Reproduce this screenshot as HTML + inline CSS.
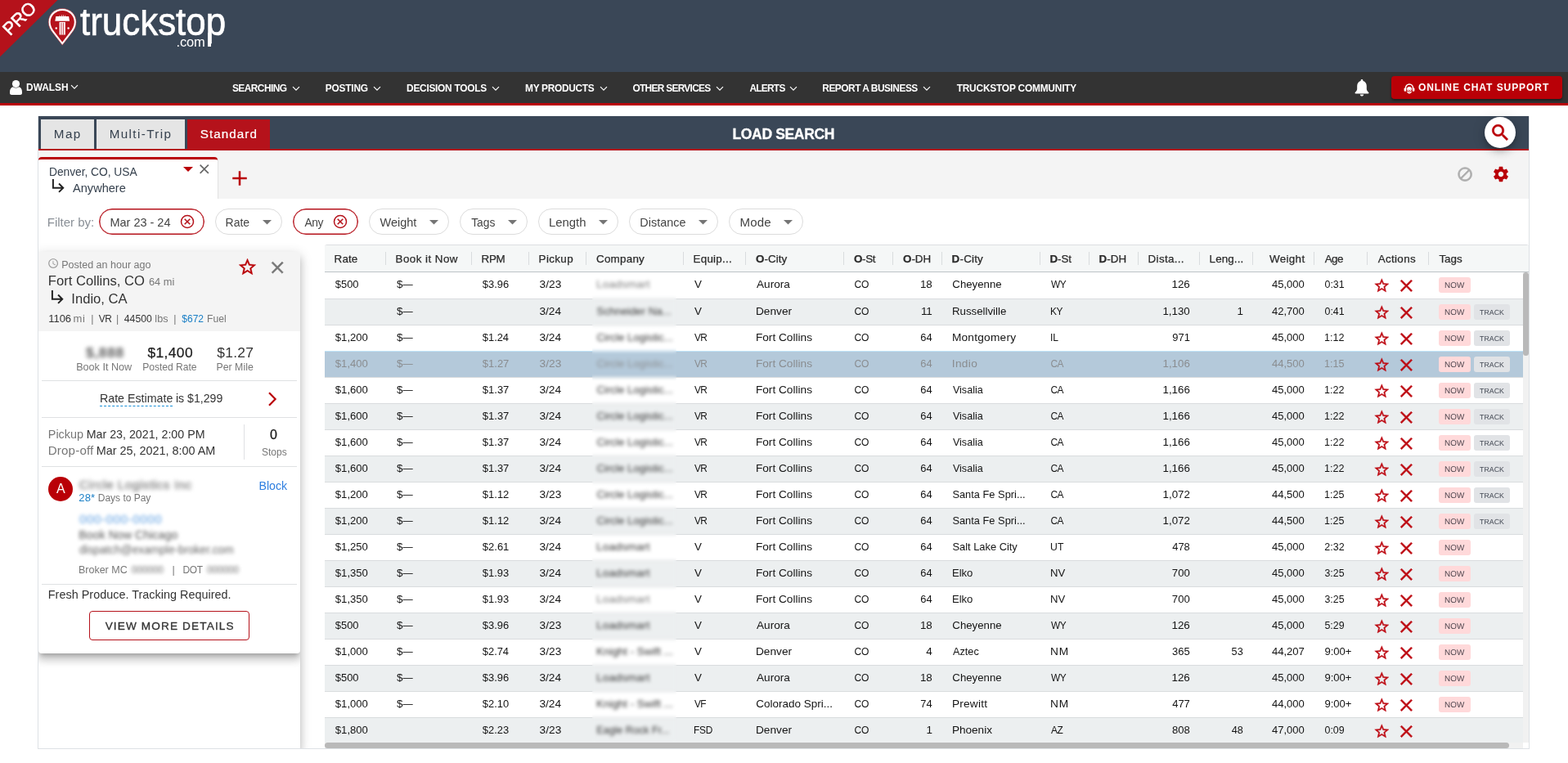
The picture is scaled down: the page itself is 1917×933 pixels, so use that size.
<!DOCTYPE html>
<html lang="en">
<head>
<meta charset="utf-8">
<title>Load Search - Truckstop.com</title>
<style>
html,body{margin:0;padding:0;}
body{width:1917px;height:933px;overflow:hidden;background:#fff;position:relative;
  font-family:"Liberation Sans",sans-serif;font-size:13.5px;color:#222;}
.a{position:absolute;white-space:nowrap;}
.ic{position:absolute;display:block;}
#hdr{left:0;top:0;width:1917px;height:88px;background:#3a4757;}
#nav{left:0;top:88px;width:1917px;height:38px;background:#333333;border-bottom:3px solid #b90007;}
.nv{position:absolute;top:88px;height:38px;line-height:38px;color:#fff;font-weight:bold;font-size:11.6px;letter-spacing:-0.2px;white-space:nowrap;}
#box{left:46px;top:142px;width:1822px;height:773px;border:1px solid #dde1e5;border-top:0;background:#fff;}
#tbar{left:47px;top:142px;width:1822px;height:40px;background:#3a4757;border-bottom:2px solid #b5121b;}
.tab{position:absolute;top:146px;height:36px;line-height:36px;background:#e5e5e5;color:#3a4757;font-size:14.5px;letter-spacing:1.1px;text-align:center;}
#strip{left:47px;top:184px;width:1822px;height:59px;background:#f4f4f4;}
.chip{position:absolute;top:255px;height:30px;border:1px solid #dcdcdc;border-radius:16px;background:#fff;}
.chip.on{border-color:#b5121b;box-shadow:inset 0 0 0 0.45px #b5121b;}
.ct{position:absolute;top:255px;height:32px;line-height:33px;font-size:14.5px;color:#444;white-space:nowrap;}
</style>
</head>
<body>
<div id="hdr" class="a"></div>
<svg class="ic" style="left:0;top:0;width:72px;height:72px" viewBox="0 0 72 72"><path fill="#b5121b" d="M0 0H70.5L0 69.5z"/></svg>
<div class="a" style="left:-6.1px;top:10.5px;width:60px;height:24px;line-height:24px;text-align:center;color:#fff;font-size:22px;letter-spacing:-0.2px;-webkit-text-stroke:0.5px #fff;transform:rotate(-45deg);transform-origin:50% 50%;">PRO</div>
<svg class="ic" style="left:58px;top:9px;width:38px;height:48px" viewBox="0 0 38 48">
<path fill="#fff" stroke="#b5121b" stroke-width="0.500" d="M18.2 1.500C8.600 1.500 1.200 8.800 1.200 18c0 5.200 2.400 9.400 5.600 13.600L18.200 46.200 29.600 31.600C32.800 27.400 35.200 23.200 35.200 18 35.200 8.800 27.800 1.500 18.200 1.500z"/>
<path fill="#b5121b" d="M18.200 3.900C10 3.900 3.600 10.100 3.600 18c0 4.500 2.100 8.300 5 12.100L18.200 42.400 27.800 30.100C30.700 26.300 32.800 22.500 32.800 18 32.800 10.100 26.400 3.900 18.200 3.900z"/>
<g transform="translate(0 1.500)">
<path fill="#fff" d="M10.300 9.400h15.800l1 5.800H9.300zM14.600 16.500h7.200v15.400h-7.200z"/>
<path fill="#fff" d="M14.700 8.200h0.700v1.400h-0.700zM17 7.800h0.700v1.800H17zM19.300 7.800h0.700v1.800h-0.700zM21.400 8.200h0.700v1.400h-0.700z"/>
<path fill="#b5121b" d="M16.500 17.300h0.800v14.600h-0.800zM18.900 17.300h0.800v14.600h-0.800z"/>
<circle fill="#fff" cx="10.800" cy="24" r="1.200"/><circle fill="#fff" cx="25.600" cy="24" r="1.200"/>
</g>
</svg>
<div class="a" style="left:98.3px;top:11.9px;width:184px;height:46px;overflow:hidden;"><div class="a" id="lg" style="left:0;top:-15.6px;height:60px;line-height:60px;font-size:49px;-webkit-text-stroke:0.6px #fff;color:#fff;transform:scaleX(0.896);transform-origin:0 0;">truckstop</div></div>
<div class="a" style="left:254.4px;top:40px;width:3.8px;height:16.6px;background:#fff;"></div>
<div class="a" style="left:215.6px;top:41px;height:20px;line-height:20px;font-size:16.5px;letter-spacing:-0.2px;color:#fff;">.com</div>
<div id="nav" class="a"></div>
<svg class="ic" style="left:10.6px;top:97px;width:17px;height:20px" viewBox="0 0 17 20">
<circle fill="#fff" cx="8.5" cy="5.6" r="4.600"/>
<path fill="#fff" d="M4.900 9.200C2.300 9.800 1 12.300 1 15.600v1.200C1 18.200 2 19 3.300 19h10.400c1.300 0 2.300-.8 2.300-2.200v-1.200c0-3.300-1.300-5.800-3.900-6.400-1 .9-2.200 1.400-3.600 1.400s-2.600-.5-3.600-1.400z"/>
</svg>
<div class="a" style="top:97px;height:20px;line-height:20px;font-size:11.9px;color:#fff;letter-spacing:-0.01px;font-weight:bold;left:32.1px;">DWALSH</div>
<svg class="ic" style="left:85.6px;top:103.1px;width:10px;height:7px" viewBox="0 0 10 7"><path d="M1 1.200L5 5.200 9 1.200" fill="none" stroke="#fff" stroke-width="1.150"/></svg>
<div class="a" style="top:98px;height:20px;line-height:20px;font-size:11.9px;color:#fff;letter-spacing:-0.54px;font-weight:bold;left:283.96px;">SEARCHING</div>
<svg class="ic" style="left:356.8px;top:104.5px;width:10px;height:7px" viewBox="0 0 10 7"><path d="M1 1.200L5 5.200 9 1.200" fill="none" stroke="#fff" stroke-width="1.150"/></svg>
<div class="a" style="top:98px;height:20px;line-height:20px;font-size:11.9px;color:#fff;letter-spacing:-0.19px;font-weight:bold;left:397.7px;">POSTING</div>
<svg class="ic" style="left:455.9px;top:104.5px;width:10px;height:7px" viewBox="0 0 10 7"><path d="M1 1.200L5 5.200 9 1.200" fill="none" stroke="#fff" stroke-width="1.150"/></svg>
<div class="a" style="top:98px;height:20px;line-height:20px;font-size:11.9px;color:#fff;letter-spacing:-0.27px;font-weight:bold;left:497.1px;">DECISION TOOLS</div>
<svg class="ic" style="left:601.2px;top:104.5px;width:10px;height:7px" viewBox="0 0 10 7"><path d="M1 1.200L5 5.200 9 1.200" fill="none" stroke="#fff" stroke-width="1.150"/></svg>
<div class="a" style="top:98px;height:20px;line-height:20px;font-size:11.9px;color:#fff;letter-spacing:-0.3px;font-weight:bold;left:642.1px;">MY PRODUCTS</div>
<svg class="ic" style="left:732.9px;top:104.5px;width:10px;height:7px" viewBox="0 0 10 7"><path d="M1 1.200L5 5.200 9 1.200" fill="none" stroke="#fff" stroke-width="1.150"/></svg>
<div class="a" style="top:98px;height:20px;line-height:20px;font-size:11.9px;color:#fff;letter-spacing:-0.7px;font-weight:bold;left:773.51px;">OTHER SERVICES</div>
<svg class="ic" style="left:875.4px;top:104.5px;width:10px;height:7px" viewBox="0 0 10 7"><path d="M1 1.200L5 5.200 9 1.200" fill="none" stroke="#fff" stroke-width="1.150"/></svg>
<div class="a" style="top:98px;height:20px;line-height:20px;font-size:11.9px;color:#fff;letter-spacing:-0.75px;font-weight:bold;left:916.5px;">ALERTS</div>
<svg class="ic" style="left:964.7px;top:104.5px;width:10px;height:7px" viewBox="0 0 10 7"><path d="M1 1.200L5 5.200 9 1.200" fill="none" stroke="#fff" stroke-width="1.150"/></svg>
<div class="a" style="top:98px;height:20px;line-height:20px;font-size:11.9px;color:#fff;letter-spacing:-0.48px;font-weight:bold;left:1005.3px;">REPORT A BUSINESS</div>
<svg class="ic" style="left:1128.4px;top:104.5px;width:10px;height:7px" viewBox="0 0 10 7"><path d="M1 1.200L5 5.200 9 1.200" fill="none" stroke="#fff" stroke-width="1.150"/></svg>
<div class="a" style="top:98px;height:20px;line-height:20px;font-size:11.9px;color:#fff;letter-spacing:-0.2px;font-weight:bold;left:1169.67px;">TRUCKSTOP COMMUNITY</div>
<svg class="ic" style="left:1656px;top:96px;width:18px;height:22px" viewBox="0 0 18 22">
<path fill="#fff" d="M9 1c-.8 0-1.400.6-1.400 1.400v.5C4.800 3.600 3.200 6 3.200 9v3.600c0 1.600-.8 3-2.200 4.200-.3.300-.5.600-.5 1 0 .5.400.8.900.8h15.200c.5 0 .9-.3.900-.8 0-.4-.2-.7-.5-1-1.400-1.200-2.200-2.600-2.200-4.200V9c0-3-1.600-5.400-4.400-6.100v-.5C10.400 1.600 9.800 1 9 1zM6.800 19.400c0 1.200 1 2.100 2.200 2.100s2.200-.9 2.200-2.100z"/>
</svg>
<div class="a" style="left:1701px;top:93px;width:209px;height:28px;background:#b90007;border-radius:4px;box-shadow:0 2px 3px rgba(0,0,0,.45);"></div>
<svg class="ic" style="left:1716px;top:102px;width:14px;height:13px" viewBox="0 0 14 13">
<path fill="none" stroke="#fff" stroke-width="1.500" d="M2.500 7V5.500a4.500 4.500 0 0 1 9 0V7"/>
<rect fill="#fff" x="0.600" y="5.400" width="2.600" height="4.400" rx="1"/><rect fill="#fff" x="10.800" y="5.400" width="2.600" height="4.400" rx="1"/>
<circle fill="#fff" cx="7" cy="6.800" r="2.900"/><path fill="#fff" d="M3.600 9.200c.6 1.900 1.800 3.200 3.400 3.200s2.800-1.300 3.400-3.200c-1 .9-2.200 1.300-3.400 1.300s-2.400-.4-3.400-1.300z"/><path fill="none" stroke="#b90007" stroke-width="0.700" d="M5.600 7.600c.4.700.9 1 1.400 1s1-.3 1.400-1"/>
</svg>
<div class="a" style="top:97px;height:20px;line-height:20px;font-size:12px;color:#fff;letter-spacing:0.94px;font-weight:bold;left:1733.91px;">ONLINE CHAT SUPPORT</div>
<div id="box" class="a"></div>
<div id="tbar" class="a"></div>
<div class="tab" style="left:50px;width:65px;"></div>
<div class="tab" style="left:118px;width:108px;"></div>
<div class="tab" style="left:229px;width:101px;background:#b5121b;"></div>
<div class="a" style="top:154px;height:20px;line-height:20px;font-size:15.2px;color:#36414e;letter-spacing:1.41px;left:65.85px;">Map</div>
<div class="a" style="top:154px;height:20px;line-height:20px;font-size:15.2px;color:#36414e;letter-spacing:1.38px;left:133.75px;">Multi-Trip</div>
<div class="a" style="top:154px;height:20px;line-height:20px;font-size:15.2px;color:#fff;letter-spacing:1.08px;left:244.71px;-webkit-text-stroke:0.2px #fff;">Standard</div>
<div class="a" style="top:154px;height:20px;line-height:20px;font-size:17.5px;color:#fff;letter-spacing:-0.35px;font-weight:bold;left:895.53px;-webkit-text-stroke:0.3px #fff;">LOAD SEARCH</div>
<div id="strip" class="a"></div>
<div class="a" style="left:1814.7px;top:142.7px;width:38.6px;height:38.6px;border-radius:50%;background:#fff;box-shadow:0 3px 5px -1px rgba(0,0,0,.2),0 6px 10px 0 rgba(0,0,0,.14),0 1px 18px 0 rgba(0,0,0,.12);"></div>
<svg class="ic" style="left:1820.9px;top:148.7px;width:26.6px;height:26.6px;" viewBox="0 0 24 24"><path fill="#b90007" stroke="#b90007" stroke-width="0.5" stroke-linejoin="round" d="M15.5 14h-.79l-.28-.27C15.41 12.59 16 11.11 16 9.5 16 5.91 13.09 3 9.5 3S3 5.91 3 9.5 5.91 16 9.5 16c1.61 0 3.09-.59 4.23-1.57l.27.28v.79l5 4.99L20.49 19l-4.99-5zm-6 0C7.01 14 5 11.99 5 9.5S7.01 5 9.5 5 14 7.01 14 9.5 11.99 14 9.5 14z"/></svg><svg class="ic" style="left:1780.9px;top:202.9px;width:20.2px;height:20.2px;" viewBox="0 0 24 24"><path fill="#adadad" stroke="#adadad" stroke-width="0.9" stroke-linejoin="round" d="M12 2C6.48 2 2 6.48 2 12s4.48 10 10 10 10-4.48 10-10S17.52 2 12 2zM4 12c0-4.42 3.58-8 8-8 1.85 0 3.55.63 4.9 1.69L5.69 16.9C4.63 15.55 4 13.85 4 12zm8 8c-1.85 0-3.55-.63-4.9-1.69L18.31 7.1C19.37 8.45 20 10.15 20 12c0 4.42-3.58 8-8 8z"/></svg><svg class="ic" style="left:1824.0px;top:201.9px;width:22px;height:22px;" viewBox="0 0 24 24"><path fill="#b90007" d="M19.43 12.98c.04-.32.07-.64.07-.98s-.03-.66-.07-.98l2.11-1.65c.19-.15.24-.42.12-.64l-2-3.46c-.12-.22-.39-.3-.61-.22l-2.49 1c-.52-.4-1.08-.73-1.69-.98l-.38-2.65C14.46 2.18 14.25 2 14 2h-4c-.25 0-.46.18-.49.42l-.38 2.65c-.61.25-1.17.59-1.69.98l-2.49-1c-.23-.09-.49 0-.61.22l-2 3.46c-.13.22-.07.49.12.64l2.11 1.65c-.04.32-.07.65-.07.98s.03.66.07.98l-2.11 1.65c-.19.15-.24.42-.12.64l2 3.46c.12.22.39.3.61.22l2.49-1c.52.4 1.08.73 1.69.98l.38 2.65c.03.24.24.42.49.42h4c.25 0 .46-.18.49-.42l.38-2.65c.61-.25 1.17-.59 1.69-.98l2.49 1c.23.09.49 0 .61-.22l2-3.46c.12-.22.07-.49-.12-.64l-2.11-1.65zM12 15.5c-1.93 0-3.5-1.57-3.5-3.5s1.57-3.5 3.5-3.5 3.5 1.57 3.5 3.5-1.57 3.5-3.5 3.5z"/></svg><div class="a" style="left:47px;top:192px;width:219px;height:48px;background:#fff;border-top:3px solid #b90007;border-radius:4px 4px 0 0;box-shadow:1px 0 0 #e2e2e2;"></div>
<div class="a" style="top:201px;height:20px;line-height:20px;font-size:13.8px;color:#36414e;letter-spacing:-0.03px;left:59.97px;">Denver, CO, USA</div>
<svg class="ic" style="left:59.7px;top:215px;width:23.5px;height:23.5px;" viewBox="0 0 24 24"><path fill="#222" d="M19 15l-6 6-1.42-1.42L15.17 16H4V4h2v10h9.17l-3.59-3.58L13 9l6 6z"/></svg><div class="a" style="top:220px;height:20px;line-height:20px;font-size:14.6px;color:#36414e;letter-spacing:-0.02px;left:89.07px;">Anywhere</div>
<svg class="ic" style="left:224px;top:204px;width:12px;height:6px" viewBox="0 0 12 6"><path fill="#b90007" d="M0 0h12L6 6z"/></svg>
<svg class="ic" style="left:240.45px;top:197.45px;width:19.5px;height:19.5px;" viewBox="0 0 24 24"><path fill="#666" d="M19 6.41L17.59 5 12 10.59 6.41 5 5 6.41 10.59 12 5 17.59 6.41 19 12 13.41 17.59 19 19 17.59 13.41 12z"/></svg><svg class="ic" style="left:278.0px;top:203.2px;width:30px;height:30px;" viewBox="0 0 24 24"><path fill="#b90007" d="M19 13h-6v6h-2v-6H5v-2h6V5h2v6h6v2z"/></svg><div class="a" style="top:262px;height:20px;line-height:20px;font-size:15.0px;color:#8a9097;left:57.77px;">Filter by:</div>
<div class="chip on" style="left:120.6px;width:127.20000000000002px;"></div>
<div class="a" style="top:262px;height:20px;line-height:20px;font-size:14.5px;color:#444;letter-spacing:-0.02px;left:134.51px;">Mar 23 - 24</div>
<svg class="ic" style="left:219px;top:261px;width:20px;height:20px" viewBox="-10 -10 20 20"><circle cx="0" cy="0" r="7.500" fill="none" stroke="#b5121b" stroke-width="1.500"/><path d="M-3.300-3.300L3.300 3.300M3.300-3.300L-3.300 3.300" fill="none" stroke="#b5121b" stroke-width="1.600"/></svg>
<div class="chip" style="left:263.1px;width:79.59999999999997px;"></div>
<div class="a" style="top:262px;height:20px;line-height:20px;font-size:14.0px;color:#444;left:275.55px;">Rate</div>
<svg class="ic" style="left:321.2px;top:269px;width:11px;height:6px" viewBox="0 0 11 6"><path fill="#757575" d="M0 0h11L5.500 5.500z"/></svg>
<div class="chip on" style="left:358px;width:77.60000000000002px;"></div>
<div class="a" style="top:263px;height:20px;line-height:20px;font-size:13.8px;color:#444;letter-spacing:-0.36px;left:372.47px;">Any</div>
<svg class="ic" style="left:406px;top:261px;width:20px;height:20px" viewBox="-10 -10 20 20"><circle cx="0" cy="0" r="7.500" fill="none" stroke="#b5121b" stroke-width="1.500"/><path d="M-3.300-3.300L3.300 3.300M3.300-3.300L-3.300 3.300" fill="none" stroke="#b5121b" stroke-width="1.600"/></svg>
<div class="chip" style="left:450.6px;width:96.0px;"></div>
<div class="a" style="top:262px;height:20px;line-height:20px;font-size:14.5px;color:#444;left:464.54px;">Weight</div>
<svg class="ic" style="left:525.1px;top:269px;width:11px;height:6px" viewBox="0 0 11 6"><path fill="#757575" d="M0 0h11L5.500 5.500z"/></svg>
<div class="chip" style="left:561.9px;width:80.89999999999998px;"></div>
<div class="a" style="top:263px;height:20px;line-height:20px;font-size:13.8px;color:#444;letter-spacing:0.02px;left:576.19px;">Tags</div>
<svg class="ic" style="left:621.0px;top:269px;width:11px;height:6px" viewBox="0 0 11 6"><path fill="#757575" d="M0 0h11L5.500 5.500z"/></svg>
<div class="chip" style="left:658.1px;width:95.79999999999995px;"></div>
<div class="a" style="top:262px;height:20px;line-height:20px;font-size:14.9px;color:#444;left:670.98px;">Length</div>
<svg class="ic" style="left:731.8px;top:269px;width:11px;height:6px" viewBox="0 0 11 6"><path fill="#757575" d="M0 0h11L5.500 5.500z"/></svg>
<div class="chip" style="left:769.2px;width:106.59999999999991px;"></div>
<div class="a" style="top:262px;height:20px;line-height:20px;font-size:14.4px;color:#444;letter-spacing:0.03px;left:782.32px;">Distance</div>
<svg class="ic" style="left:854.0px;top:269px;width:11px;height:6px" viewBox="0 0 11 6"><path fill="#757575" d="M0 0h11L5.500 5.500z"/></svg>
<div class="chip" style="left:891.1px;width:88.79999999999995px;"></div>
<div class="a" style="top:262px;height:20px;line-height:20px;font-size:15.1px;color:#444;letter-spacing:0.15px;left:904.46px;">Mode</div>
<svg class="ic" style="left:957.8px;top:269px;width:11px;height:6px" viewBox="0 0 11 6"><path fill="#757575" d="M0 0h11L5.500 5.500z"/></svg>
<div class="a" style="left:47px;top:307.5px;width:320px;height:607.5px;background:#fff;border-radius:0 4px 0 0;box-shadow:0 5px 5px -3px rgba(0,0,0,.2),0 8px 10px 1px rgba(0,0,0,.14),0 3px 14px 2px rgba(0,0,0,.12);clip-path:inset(-20px -24px 0 0);"></div>
<div class="a" style="left:47px;top:307.5px;width:320px;height:607.5px;overflow:hidden;border-radius:0 4px 0 0;"><div class="a" style="left:0;top:0;width:320px;height:491px;background:#fff;border-radius:0 4px 4px 4px;box-shadow:0 5px 5px -3px rgba(0,0,0,.2),0 8px 10px 1px rgba(0,0,0,.14),0 3px 14px 2px rgba(0,0,0,.12);"></div><div class="a" style="left:0;top:0;width:320px;height:97px;background:#f4f4f4;"></div></div>
<svg class="ic" style="left:57.9px;top:315.3px;width:14.2px;height:14.2px;" viewBox="0 0 24 24"><path fill="#999" d="M11.99 2C6.47 2 2 6.48 2 12s4.47 10 9.99 10C17.52 22 22 17.52 22 12S17.52 2 11.99 2zM12 20c-4.42 0-8-3.58-8-8s3.58-8 8-8 8 3.58 8 8-3.58 8-8 8zm.5-13H11v6l5.25 3.15.75-1.23-4.5-2.67z"/></svg><div class="a" style="top:314px;height:20px;line-height:20px;font-size:12.5px;color:#777777;letter-spacing:0.01px;left:75.17px;">Posted an hour ago</div>
<svg class="ic" style="left:290.4px;top:314.3px;width:25px;height:25px;" viewBox="0 0 24 24"><path fill="#b90007" stroke="#b90007" stroke-width="0.3" stroke-linejoin="round" d="M22 9.24l-7.19-.62L12 2 9.19 8.63 2 9.24l5.46 4.73L5.82 21 12 17.27 18.18 21l-1.63-7.03L22 9.24zM12 15.4l-3.76 2.27 1-4.28-3.32-2.88 4.38-.38L12 6.1l1.71 4.04 4.38.38-3.32 2.88 1 4.28L12 15.4z"/></svg><svg class="ic" style="left:326.7px;top:314.8px;width:24.4px;height:24.4px;" viewBox="0 0 24 24"><path fill="#767676" stroke="#767676" stroke-width="0.5" stroke-linejoin="round" d="M19 6.41L17.59 5 12 10.59 6.41 5 5 6.41 10.59 12 5 17.59 6.41 19 12 13.41 17.59 19 19 17.59 13.41 12z"/></svg><div class="a" style="top:334px;height:20px;line-height:20px;font-size:16.6px;color:#333333;letter-spacing:0.01px;left:58.84px;">Fort Collins, CO</div>
<div class="a" style="top:335px;height:20px;line-height:20px;font-size:12.8px;color:#777777;left:181.95px;">64 mi</div>
<svg class="ic" style="left:58.7px;top:350.8px;width:23.5px;height:23.5px;" viewBox="0 0 24 24"><path fill="#222" d="M19 15l-6 6-1.42-1.42L15.17 16H4V4h2v10h9.17l-3.59-3.58L13 9l6 6z"/></svg><div class="a" style="top:356px;height:20px;line-height:20px;font-size:16.6px;color:#333333;left:87.37px;">Indio, CA</div>
<div class="a" style="top:380px;height:20px;line-height:20px;font-size:13.0px;color:#333333;letter-spacing:-0.03px;left:59.21px;">1106</div>
<div class="a" style="top:380px;height:20px;line-height:20px;font-size:13.0px;color:#777777;letter-spacing:0.62px;left:89.54px;">mi</div>
<div class="a" style="top:380px;height:20px;line-height:20px;font-size:12.4px;color:#777777;left:111.29px;">|</div>
<div class="a" style="top:380px;height:20px;line-height:20px;font-size:11.9px;color:#333333;letter-spacing:-0.5px;left:120.85px;">VR</div>
<div class="a" style="top:380px;height:20px;line-height:20px;font-size:12.4px;color:#777777;left:141.99px;">|</div>
<div class="a" style="top:380px;height:20px;line-height:20px;font-size:12.2px;color:#333333;letter-spacing:0.03px;left:151.82px;">44500</div>
<div class="a" style="top:380px;height:20px;line-height:20px;font-size:12.6px;color:#777777;left:189.35px;">lbs</div>
<div class="a" style="top:380px;height:20px;line-height:20px;font-size:12.4px;color:#777777;left:212.19px;">|</div>
<div class="a" style="top:380px;height:20px;line-height:20px;font-size:12.0px;color:#1a7fc6;letter-spacing:-0.02px;left:222.37px;">$672</div>
<div class="a" style="top:380px;height:20px;line-height:20px;font-size:12.1px;color:#777777;letter-spacing:0.02px;left:253.11px;">Fuel</div>
<div class="a" style="top:421px;height:20px;line-height:20px;font-size:17.4px;color:#5c5c5c;letter-spacing:0.67px;left:105.01px;filter:blur(2.5px);font-weight:bold;">$,888</div>
<div class="a" style="top:421px;height:20px;line-height:20px;font-size:17.4px;color:#222;letter-spacing:0.39px;left:180.41px;-webkit-text-stroke:0.25px #222;">$1,400</div>
<div class="a" style="top:421px;height:20px;line-height:20px;font-size:17.4px;color:#333333;letter-spacing:0.3px;left:265.31px;">$1.27</div>
<div class="a" style="top:439px;height:20px;line-height:20px;font-size:12.6px;color:#777777;letter-spacing:0.01px;left:93.17px;">Book It Now</div>
<div class="a" style="top:439px;height:20px;line-height:20px;font-size:12.1px;color:#777777;letter-spacing:-0.02px;left:174.21px;">Posted Rate</div>
<div class="a" style="top:439px;height:20px;line-height:20px;font-size:12.3px;color:#777777;letter-spacing:0.02px;left:264.49px;">Per Mile</div>
<div class="a" style="left:51px;top:465px;width:312px;height:1px;background:#dfe1e3;"></div>
<div class="a" style="top:477px;height:20px;line-height:20px;font-size:14.2px;color:#333333;letter-spacing:0.03px;left:121.94px;">Rate Estimate</div>
<div class="a" style="left:122.4px;top:495.5px;width:88.5px;height:0;border-top:1px dashed #1a8fd6;"></div>
<div class="a" style="top:477px;height:20px;line-height:20px;font-size:14.1px;color:#333333;letter-spacing:0.01px;left:214.96px;">is $1,299</div>
<svg class="ic" style="left:324px;top:476px;width:18px;height:24px" viewBox="324 476 18 24"><path d="M329 480.200L336.600 488 329 495.800" fill="none" stroke="#b90007" stroke-width="2.200"/></svg>
<div class="a" style="left:51px;top:510px;width:312px;height:1px;background:#dfe1e3;"></div>
<div class="a" style="top:521px;height:20px;line-height:20px;font-size:14.4px;color:#777777;letter-spacing:-0.01px;left:58.82px;">Pickup</div>
<div class="a" style="top:521px;height:20px;line-height:20px;font-size:14.2px;color:#333333;letter-spacing:0.02px;left:105.74px;">Mar 23, 2021, 2:00 PM</div>
<div class="a" style="top:541px;height:20px;line-height:20px;font-size:15.1px;color:#777777;letter-spacing:0.18px;left:58.76px;">Drop-off</div>
<div class="a" style="top:541px;height:20px;line-height:20px;font-size:14.4px;color:#333333;left:117.72px;">Mar 25, 2021, 8:00 AM</div>
<div class="a" style="left:298px;top:519px;width:1px;height:43px;background:#dfe1e3;"></div>
<div class="a" style="top:522px;height:20px;line-height:20px;font-size:16px;color:#222;letter-spacing:0.15px;left:330.07px;-webkit-text-stroke:0.3px #222;">0</div>
<div class="a" style="top:543px;height:20px;line-height:20px;font-size:12.0px;color:#777777;letter-spacing:0.02px;left:319.96px;">Stops</div>
<div class="a" style="left:51px;top:570px;width:312px;height:1px;background:#dfe1e3;"></div>
<div class="a" style="left:58.5px;top:582.7px;width:30px;height:30px;border-radius:50%;background:#b90007;"></div>
<div class="a" style="top:588px;height:20px;line-height:20px;font-size:16px;color:#fff;letter-spacing:-0.64px;left:68.97px;">A</div>
<div class="a" style="top:583px;height:20px;line-height:20px;font-size:15.5px;color:#858585;letter-spacing:0.44px;left:96.71px;filter:blur(2.4px);-webkit-text-stroke:0.4px #858585;">Circle Logistics Inc</div>
<div class="a" style="top:584px;height:20px;line-height:20px;font-size:14.2px;color:#2f7fe0;letter-spacing:-0.02px;left:316.44px;">Block</div>
<div class="a" style="top:599px;height:20px;line-height:20px;font-size:13.0px;color:#1a7fc6;letter-spacing:0.07px;left:96.35px;">28*</div>
<div class="a" style="top:599px;height:20px;line-height:20px;font-size:12.0px;color:#777777;letter-spacing:-0.02px;left:119.82px;">Days to Pay</div>
<div class="a" style="top:625px;height:20px;line-height:20px;font-size:15.2px;color:#5a9de2;letter-spacing:0.57px;left:96.91px;filter:blur(2.3px);">000-000-0000</div>
<div class="a" style="top:644px;height:20px;line-height:20px;font-size:14.2px;color:#555;letter-spacing:0.02px;left:96.34px;filter:blur(2.3px);">Book Now Chicago</div>
<div class="a" style="top:663px;height:20px;line-height:20px;font-size:13.8px;color:#666;letter-spacing:-0.06px;left:96.92px;filter:blur(2.3px);">dispatch@example-broker.com</div>
<div class="a" style="top:687px;height:20px;line-height:20px;font-size:12.5px;color:#777777;left:95.97px;">Broker MC</div>
<div class="a" style="top:687px;height:20px;line-height:20px;font-size:11.9px;color:#6e6e6e;letter-spacing:-0.1px;left:160.74px;filter:blur(2.1px);">000000</div>
<div class="a" style="top:687px;height:20px;line-height:20px;font-size:12.4px;color:#777777;left:210.49px;">|</div>
<div class="a" style="top:687px;height:20px;line-height:20px;font-size:11.9px;color:#777777;letter-spacing:-0.23px;left:223.42px;">DOT</div>
<div class="a" style="top:687px;height:20px;line-height:20px;font-size:11.9px;color:#6e6e6e;letter-spacing:-0.1px;left:253.04px;filter:blur(2.1px);">000000</div>
<div class="a" style="left:51px;top:714px;width:312px;height:1px;background:#dfe1e3;"></div>
<div class="a" style="top:717px;height:20px;line-height:20px;font-size:14.4px;color:#333333;letter-spacing:0.02px;left:58.82px;">Fresh Produce. Tracking Required.</div>
<div class="a" style="left:109px;top:747px;width:194px;height:34px;border:1px solid #b5121b;border-radius:4px;background:#fff;"></div>
<div class="a" style="top:756px;height:20px;line-height:20px;font-size:13.6px;color:#333;letter-spacing:1.14px;left:128.64px;-webkit-text-stroke:0.3px #333;">VIEW MORE DETAILS</div>
<div class="a" style="left:397px;top:299px;width:1472px;height:616px;border-top:1px solid #dcdfe2;border-radius:3px 3px 0 0;box-sizing:border-box;background:#fff;"></div>
<div class="a" style="left:397px;top:300px;width:1472px;height:32px;background:#f5f7f7;border-bottom:1px solid #bdc3c7;border-radius:2px 2px 0 0;"></div>
<div class="a" style="top:307px;height:20px;line-height:20px;font-size:13.4px;color:#2b2b2b;letter-spacing:0.13px;left:408.6px;-webkit-text-stroke:0.25px #2b2b2b;">Rate</div>
<div class="a" style="left:471px;top:308px;width:1px;height:16px;background:#d9dcde;"></div>
<div class="a" style="top:307px;height:20px;line-height:20px;font-size:13.4px;color:#2b2b2b;letter-spacing:0.44px;left:483.6px;-webkit-text-stroke:0.25px #2b2b2b;">Book it Now</div>
<div class="a" style="left:576px;top:308px;width:1px;height:16px;background:#d9dcde;"></div>
<div class="a" style="top:307px;height:20px;line-height:20px;font-size:13.4px;color:#2b2b2b;letter-spacing:-0.29px;left:588.6px;-webkit-text-stroke:0.25px #2b2b2b;">RPM</div>
<div class="a" style="left:646px;top:308px;width:1px;height:16px;background:#d9dcde;"></div>
<div class="a" style="top:307px;height:20px;line-height:20px;font-size:13.4px;color:#2b2b2b;letter-spacing:0.37px;left:658.6px;-webkit-text-stroke:0.25px #2b2b2b;">Pickup</div>
<div class="a" style="left:716px;top:308px;width:1px;height:16px;background:#d9dcde;"></div>
<div class="a" style="top:307px;height:20px;line-height:20px;font-size:13.4px;color:#2b2b2b;letter-spacing:0.24px;left:729.02px;-webkit-text-stroke:0.25px #2b2b2b;">Company</div>
<div class="a" style="left:835px;top:308px;width:1px;height:16px;background:#d9dcde;"></div>
<div class="a" style="top:307px;height:20px;line-height:20px;font-size:13.4px;color:#2b2b2b;letter-spacing:0.23px;left:847.6px;-webkit-text-stroke:0.25px #2b2b2b;">Equip...</div>
<div class="a" style="left:911px;top:308px;width:1px;height:16px;background:#d9dcde;"></div>
<div class="a" style="top:307px;height:20px;line-height:20px;font-size:13.4px;color:#2b2b2b;letter-spacing:0.02px;left:924.07px;-webkit-text-stroke:0.25px #2b2b2b;"><b>O</b>-City</div>
<div class="a" style="left:1031px;top:308px;width:1px;height:16px;background:#d9dcde;"></div>
<div class="a" style="top:307px;height:20px;line-height:20px;font-size:13.4px;color:#2b2b2b;letter-spacing:-0.37px;left:1044.07px;-webkit-text-stroke:0.25px #2b2b2b;"><b>O</b>-St</div>
<div class="a" style="left:1091px;top:308px;width:1px;height:16px;background:#d9dcde;"></div>
<div class="a" style="top:307px;height:20px;line-height:20px;font-size:13.4px;color:#2b2b2b;letter-spacing:-0.07px;left:1104.07px;-webkit-text-stroke:0.25px #2b2b2b;"><b>O</b>-DH</div>
<div class="a" style="left:1151px;top:308px;width:1px;height:16px;background:#d9dcde;"></div>
<div class="a" style="top:307px;height:20px;line-height:20px;font-size:13.4px;color:#2b2b2b;letter-spacing:0.2px;left:1163.6px;-webkit-text-stroke:0.25px #2b2b2b;"><b>D</b>-City</div>
<div class="a" style="left:1271px;top:308px;width:1px;height:16px;background:#d9dcde;"></div>
<div class="a" style="top:307px;height:20px;line-height:20px;font-size:13.4px;color:#2b2b2b;letter-spacing:-0.17px;left:1283.6px;-webkit-text-stroke:0.25px #2b2b2b;"><b>D</b>-St</div>
<div class="a" style="left:1331px;top:308px;width:1px;height:16px;background:#d9dcde;"></div>
<div class="a" style="top:307px;height:20px;line-height:20px;font-size:13.4px;color:#2b2b2b;letter-spacing:0.03px;left:1343.6px;-webkit-text-stroke:0.25px #2b2b2b;"><b>D</b>-DH</div>
<div class="a" style="left:1391px;top:308px;width:1px;height:16px;background:#d9dcde;"></div>
<div class="a" style="top:307px;height:20px;line-height:20px;font-size:13.4px;color:#2b2b2b;letter-spacing:0.33px;left:1403.6px;-webkit-text-stroke:0.25px #2b2b2b;">Dista...</div>
<div class="a" style="left:1466px;top:308px;width:1px;height:16px;background:#d9dcde;"></div>
<div class="a" style="top:307px;height:20px;line-height:20px;font-size:13.4px;color:#2b2b2b;letter-spacing:0.12px;left:1478.6px;-webkit-text-stroke:0.25px #2b2b2b;">Leng...</div>
<div class="a" style="left:1531px;top:308px;width:1px;height:16px;background:#d9dcde;"></div>
<div class="a" style="top:307px;height:20px;line-height:20px;font-size:13.4px;color:#2b2b2b;letter-spacing:0.36px;right:321.54px;text-align:right;-webkit-text-stroke:0.25px #2b2b2b;">Weight</div>
<div class="a" style="left:1606px;top:308px;width:1px;height:16px;background:#d9dcde;"></div>
<div class="a" style="top:307px;height:20px;line-height:20px;font-size:13.4px;color:#2b2b2b;letter-spacing:-0.536px;left:1619.67px;-webkit-text-stroke:0.25px #2b2b2b;">Age</div>
<div class="a" style="left:1671px;top:308px;width:1px;height:16px;background:#d9dcde;"></div>
<div class="a" style="top:307px;height:20px;line-height:20px;font-size:13.4px;color:#2b2b2b;letter-spacing:0.34px;left:1684.67px;-webkit-text-stroke:0.25px #2b2b2b;">Actions</div>
<div class="a" style="left:1746px;top:308px;width:1px;height:16px;background:#d9dcde;"></div>
<div class="a" style="top:307px;height:20px;line-height:20px;font-size:13.4px;color:#2b2b2b;letter-spacing:0.03px;left:1759.4px;-webkit-text-stroke:0.25px #2b2b2b;">Tags</div>
<div class="a" style="left:397px;top:334px;width:1465px;height:31px;background:#ffffff;border-bottom:1px solid #d9dcde;"></div>
<div class="a" style="top:338px;height:20px;line-height:20px;font-size:12.9px;color:#141414;letter-spacing:-0.02px;left:409.86px;">$500</div>
<div class="a" style="top:338px;height:20px;line-height:20px;font-size:13.4px;color:#141414;left:484.96px;">$<span style="font-size:12.2px">—</span></div>
<div class="a" style="top:338px;height:20px;line-height:20px;font-size:12.9px;color:#141414;letter-spacing:0.03px;left:589.86px;">$3.96</div>
<div class="a" style="top:338px;height:20px;line-height:20px;font-size:13.7px;color:#141414;letter-spacing:0.05px;left:659.48px;">3/23</div>
<div class="a" style="top:338px;height:20px;line-height:20px;font-size:13.7px;color:#7a7a7a;letter-spacing:0.1px;left:729.08px;">Loadsmart</div>
<div class="a" style="top:338px;height:20px;line-height:20px;font-size:13.4px;color:#141414;letter-spacing:-0.536px;left:848.94px;">V</div>
<div class="a" style="top:338px;height:20px;line-height:20px;font-size:13.6px;color:#141414;letter-spacing:0.02px;left:924.97px;">Aurora</div>
<div class="a" style="top:338px;height:20px;line-height:20px;font-size:12.1px;color:#141414;letter-spacing:-0.06px;left:1044.39px;">CO</div>
<div class="a" style="top:338px;height:20px;line-height:20px;font-size:13.4px;color:#141414;right:777.22px;text-align:right;">18</div>
<div class="a" style="top:338px;height:20px;line-height:20px;font-size:13.2px;color:#141414;letter-spacing:0.03px;left:1164.33px;">Cheyenne</div>
<div class="a" style="top:338px;height:20px;line-height:20px;font-size:11.9px;color:#141414;letter-spacing:-0.5px;left:1284.95px;">WY</div>
<div class="a" style="top:338px;height:20px;line-height:20px;font-size:13.4px;color:#141414;letter-spacing:-0.02px;right:462.23px;text-align:right;">126</div>
<div class="a" style="top:338px;height:20px;line-height:20px;font-size:13.0px;color:#141414;letter-spacing:0.01px;right:322.28px;text-align:right;">45,000</div>
<div class="a" style="top:338px;height:20px;line-height:20px;font-size:12.4px;color:#141414;letter-spacing:-0.01px;left:1619.52px;">0:31</div>
<svg class="ic" style="left:1678.7px;top:338.5px;width:20.6px;height:20.6px;" viewBox="0 0 24 24"><path fill="#bd0a12" stroke="#bd0a12" stroke-width="0.5" stroke-linejoin="round" d="M22 9.24l-7.19-.62L12 2 9.19 8.63 2 9.24l5.46 4.73L5.82 21 12 17.27 18.18 21l-1.63-7.03L22 9.24zM12 15.4l-3.76 2.27 1-4.28-3.32-2.88 4.38-.38L12 6.1l1.71 4.04 4.38.38-3.32 2.88 1 4.28L12 15.4z"/></svg><svg class="ic" style="left:1707.1px;top:337.1px;width:24.8px;height:24.8px;" viewBox="0 0 24 24"><path fill="#bd0a12" stroke="#bd0a12" stroke-width="0.5" stroke-linejoin="round" d="M19 6.41L17.59 5 12 10.59 6.41 5 5 6.41 10.59 12 5 17.59 6.41 19 12 13.41 17.59 19 19 17.59 13.41 12z"/></svg><div class="a" style="left:1759px;top:339px;width:39px;height:19px;border-radius:3px;background:#ffd9da;"></div>
<div class="a" style="top:339px;height:20px;line-height:20px;font-size:9.9px;color:#4d444d;letter-spacing:0.08px;left:1766.39px;transform:rotate(0.05deg);">NOW</div>
<div class="a" style="left:397px;top:366px;width:1465px;height:31px;background:#eceff0;border-bottom:1px solid #d9dcde;"></div>
<div class="a" style="top:371px;height:20px;line-height:20px;font-size:13.4px;color:#141414;left:484.96px;">$<span style="font-size:12.2px">—</span></div>
<div class="a" style="top:371px;height:20px;line-height:20px;font-size:13.7px;color:#141414;letter-spacing:-0.01px;left:659.48px;">3/24</div>
<div class="a" style="top:371px;height:20px;line-height:20px;font-size:13.2px;color:#333333;letter-spacing:0.01px;left:729.6px;">Schneider Na...</div>
<div class="a" style="top:371px;height:20px;line-height:20px;font-size:13.4px;color:#141414;letter-spacing:-0.536px;left:848.94px;">V</div>
<div class="a" style="top:371px;height:20px;line-height:20px;font-size:13.7px;color:#141414;letter-spacing:0.02px;left:923.88px;">Denver</div>
<div class="a" style="top:371px;height:20px;line-height:20px;font-size:12.1px;color:#141414;letter-spacing:-0.06px;left:1044.39px;">CO</div>
<div class="a" style="top:371px;height:20px;line-height:20px;font-size:13.5px;color:#141414;letter-spacing:-0.03px;right:777.17px;text-align:right;">11</div>
<div class="a" style="top:371px;height:20px;line-height:20px;font-size:13.3px;color:#141414;letter-spacing:-0.01px;left:1163.91px;">Russellville</div>
<div class="a" style="top:371px;height:20px;line-height:20px;font-size:11.9px;color:#141414;letter-spacing:-0.5px;left:1284.02px;">KY</div>
<div class="a" style="top:371px;height:20px;line-height:20px;font-size:13.3px;color:#141414;letter-spacing:-0.01px;right:462.29px;text-align:right;">1,130</div>
<div class="a" style="top:371px;height:20px;line-height:20px;font-size:13.4px;color:#141414;right:397.15px;text-align:right;">1</div>
<div class="a" style="top:371px;height:20px;line-height:20px;font-size:13.0px;color:#141414;letter-spacing:0.01px;right:322.28px;text-align:right;">42,700</div>
<div class="a" style="top:371px;height:20px;line-height:20px;font-size:12.4px;color:#141414;letter-spacing:-0.01px;left:1619.52px;">0:41</div>
<svg class="ic" style="left:1678.7px;top:371.5px;width:20.6px;height:20.6px;" viewBox="0 0 24 24"><path fill="#bd0a12" stroke="#bd0a12" stroke-width="0.5" stroke-linejoin="round" d="M22 9.24l-7.19-.62L12 2 9.19 8.63 2 9.24l5.46 4.73L5.82 21 12 17.27 18.18 21l-1.63-7.03L22 9.24zM12 15.4l-3.76 2.27 1-4.28-3.32-2.88 4.38-.38L12 6.1l1.71 4.04 4.38.38-3.32 2.88 1 4.28L12 15.4z"/></svg><svg class="ic" style="left:1707.1px;top:370.1px;width:24.8px;height:24.8px;" viewBox="0 0 24 24"><path fill="#bd0a12" stroke="#bd0a12" stroke-width="0.5" stroke-linejoin="round" d="M19 6.41L17.59 5 12 10.59 6.41 5 5 6.41 10.59 12 5 17.59 6.41 19 12 13.41 17.59 19 19 17.59 13.41 12z"/></svg><div class="a" style="left:1759px;top:372px;width:39px;height:19px;border-radius:3px;background:#ffd9da;"></div>
<div class="a" style="top:372px;height:20px;line-height:20px;font-size:9.9px;color:#4d444d;letter-spacing:0.08px;left:1766.39px;transform:rotate(0.05deg);">NOW</div>
<div class="a" style="left:1802px;top:372px;width:44px;height:19px;border-radius:3px;background:#e1e3e6;"></div>
<div class="a" style="top:372px;height:20px;line-height:20px;font-size:8.8px;color:#444a55;letter-spacing:0.02px;left:1808.7px;transform:rotate(0.05deg);">TRACK</div>
<div class="a" style="left:397px;top:398px;width:1465px;height:31px;background:#ffffff;border-bottom:1px solid #d9dcde;"></div>
<div class="a" style="top:403px;height:20px;line-height:20px;font-size:13.1px;color:#141414;letter-spacing:-0.02px;left:409.86px;">$1,200</div>
<div class="a" style="top:403px;height:20px;line-height:20px;font-size:13.4px;color:#141414;left:484.96px;">$<span style="font-size:12.2px">—</span></div>
<div class="a" style="top:403px;height:20px;line-height:20px;font-size:12.9px;color:#141414;letter-spacing:-0.02px;left:589.86px;">$1.24</div>
<div class="a" style="top:403px;height:20px;line-height:20px;font-size:13.7px;color:#141414;letter-spacing:-0.01px;left:659.48px;">3/24</div>
<div class="a" style="top:403px;height:20px;line-height:20px;font-size:13.2px;color:#333333;left:729.53px;">Circle Logistic...</div>
<div class="a" style="top:403px;height:20px;line-height:20px;font-size:11.9px;color:#141414;letter-spacing:-0.5px;left:848.95px;">VR</div>
<div class="a" style="top:403px;height:20px;line-height:20px;font-size:13.7px;color:#141414;letter-spacing:-0.01px;left:923.88px;">Fort Collins</div>
<div class="a" style="top:403px;height:20px;line-height:20px;font-size:12.1px;color:#141414;letter-spacing:-0.06px;left:1044.39px;">CO</div>
<div class="a" style="top:403px;height:20px;line-height:20px;font-size:12.9px;color:#141414;letter-spacing:-0.02px;right:777.44px;text-align:right;">64</div>
<div class="a" style="top:403px;height:20px;line-height:20px;font-size:13.7px;color:#141414;letter-spacing:0.23px;left:1163.88px;">Montgomery</div>
<div class="a" style="top:403px;height:20px;line-height:20px;font-size:12.1px;color:#141414;letter-spacing:0.03px;left:1283.88px;">IL</div>
<div class="a" style="top:403px;height:20px;line-height:20px;font-size:12.9px;color:#141414;letter-spacing:0.01px;right:462.16px;text-align:right;">971</div>
<div class="a" style="top:403px;height:20px;line-height:20px;font-size:13.0px;color:#141414;letter-spacing:0.01px;right:322.28px;text-align:right;">45,000</div>
<div class="a" style="top:403px;height:20px;line-height:20px;font-size:12.6px;color:#141414;letter-spacing:0.02px;left:1619.04px;">1:12</div>
<svg class="ic" style="left:1678.7px;top:403.5px;width:20.6px;height:20.6px;" viewBox="0 0 24 24"><path fill="#bd0a12" stroke="#bd0a12" stroke-width="0.5" stroke-linejoin="round" d="M22 9.24l-7.19-.62L12 2 9.19 8.63 2 9.24l5.46 4.73L5.82 21 12 17.27 18.18 21l-1.63-7.03L22 9.24zM12 15.4l-3.76 2.27 1-4.28-3.32-2.88 4.38-.38L12 6.1l1.71 4.04 4.38.38-3.32 2.88 1 4.28L12 15.4z"/></svg><svg class="ic" style="left:1707.1px;top:402.1px;width:24.8px;height:24.8px;" viewBox="0 0 24 24"><path fill="#bd0a12" stroke="#bd0a12" stroke-width="0.5" stroke-linejoin="round" d="M19 6.41L17.59 5 12 10.59 6.41 5 5 6.41 10.59 12 5 17.59 6.41 19 12 13.41 17.59 19 19 17.59 13.41 12z"/></svg><div class="a" style="left:1759px;top:404px;width:39px;height:19px;border-radius:3px;background:#ffd9da;"></div>
<div class="a" style="top:404px;height:20px;line-height:20px;font-size:9.9px;color:#4d444d;letter-spacing:0.08px;left:1766.39px;transform:rotate(0.05deg);">NOW</div>
<div class="a" style="left:1802px;top:404px;width:44px;height:19px;border-radius:3px;background:#e1e3e6;"></div>
<div class="a" style="top:404px;height:20px;line-height:20px;font-size:8.8px;color:#444a55;letter-spacing:0.02px;left:1808.7px;transform:rotate(0.05deg);">TRACK</div>
<div class="a" style="left:397px;top:430px;width:1465px;height:31px;background:#b4c9da;border-bottom:1px solid #d9dcde;"></div>
<div class="a" style="left:397px;top:429px;width:1465px;height:1px;background:#bfe3f8;"></div>
<div class="a" style="top:435px;height:20px;line-height:20px;font-size:13.1px;color:#8a8d90;letter-spacing:-0.02px;left:409.86px;">$1,400</div>
<div class="a" style="top:435px;height:20px;line-height:20px;font-size:13.4px;color:#8a8d90;left:484.96px;">$<span style="font-size:12.2px">—</span></div>
<div class="a" style="top:435px;height:20px;line-height:20px;font-size:13.0px;color:#8a8d90;letter-spacing:-0.01px;left:589.86px;">$1.27</div>
<div class="a" style="top:435px;height:20px;line-height:20px;font-size:13.7px;color:#8a8d90;letter-spacing:0.05px;left:659.48px;">3/23</div>
<div class="a" style="top:435px;height:20px;line-height:20px;font-size:13.2px;color:#8a8d90;left:729.53px;">Circle Logistic...</div>
<div class="a" style="top:435px;height:20px;line-height:20px;font-size:11.9px;color:#8a8d90;letter-spacing:-0.5px;left:848.95px;">VR</div>
<div class="a" style="top:435px;height:20px;line-height:20px;font-size:13.7px;color:#8a8d90;letter-spacing:-0.01px;left:923.88px;">Fort Collins</div>
<div class="a" style="top:435px;height:20px;line-height:20px;font-size:12.1px;color:#8a8d90;letter-spacing:-0.06px;left:1044.39px;">CO</div>
<div class="a" style="top:435px;height:20px;line-height:20px;font-size:12.9px;color:#8a8d90;letter-spacing:-0.02px;right:777.44px;text-align:right;">64</div>
<div class="a" style="top:435px;height:20px;line-height:20px;font-size:13.7px;color:#8a8d90;letter-spacing:0.36px;left:1163.74px;">Indio</div>
<div class="a" style="top:435px;height:20px;line-height:20px;font-size:11.9px;color:#8a8d90;letter-spacing:-0.5px;left:1284.4px;">CA</div>
<div class="a" style="top:435px;height:20px;line-height:20px;font-size:13.3px;color:#8a8d90;right:462.22px;text-align:right;">1,106</div>
<div class="a" style="top:435px;height:20px;line-height:20px;font-size:13.0px;color:#8a8d90;letter-spacing:0.01px;right:322.28px;text-align:right;">44,500</div>
<div class="a" style="top:435px;height:20px;line-height:20px;font-size:12.6px;color:#8a8d90;letter-spacing:-0.01px;left:1619.04px;">1:15</div>
<svg class="ic" style="left:1678.7px;top:435.5px;width:20.6px;height:20.6px;" viewBox="0 0 24 24"><path fill="#bd0a12" stroke="#bd0a12" stroke-width="0.5" stroke-linejoin="round" d="M22 9.24l-7.19-.62L12 2 9.19 8.63 2 9.24l5.46 4.73L5.82 21 12 17.27 18.18 21l-1.63-7.03L22 9.24zM12 15.4l-3.76 2.27 1-4.28-3.32-2.88 4.38-.38L12 6.1l1.71 4.04 4.38.38-3.32 2.88 1 4.28L12 15.4z"/></svg><svg class="ic" style="left:1707.1px;top:434.1px;width:24.8px;height:24.8px;" viewBox="0 0 24 24"><path fill="#bd0a12" stroke="#bd0a12" stroke-width="0.5" stroke-linejoin="round" d="M19 6.41L17.59 5 12 10.59 6.41 5 5 6.41 10.59 12 5 17.59 6.41 19 12 13.41 17.59 19 19 17.59 13.41 12z"/></svg><div class="a" style="left:1759px;top:436px;width:39px;height:19px;border-radius:3px;background:#ffd9da;"></div>
<div class="a" style="top:436px;height:20px;line-height:20px;font-size:9.9px;color:#4d444d;letter-spacing:0.08px;left:1766.39px;transform:rotate(0.05deg);">NOW</div>
<div class="a" style="left:1802px;top:436px;width:44px;height:19px;border-radius:3px;background:#e1e3e6;"></div>
<div class="a" style="top:436px;height:20px;line-height:20px;font-size:8.8px;color:#444a55;letter-spacing:0.02px;left:1808.7px;transform:rotate(0.05deg);">TRACK</div>
<div class="a" style="left:397px;top:462px;width:1465px;height:31px;background:#ffffff;border-bottom:1px solid #d9dcde;"></div>
<div class="a" style="top:467px;height:20px;line-height:20px;font-size:13.1px;color:#141414;letter-spacing:-0.02px;left:409.86px;">$1,600</div>
<div class="a" style="top:467px;height:20px;line-height:20px;font-size:13.4px;color:#141414;left:484.96px;">$<span style="font-size:12.2px">—</span></div>
<div class="a" style="top:467px;height:20px;line-height:20px;font-size:13.0px;color:#141414;letter-spacing:-0.01px;left:589.86px;">$1.37</div>
<div class="a" style="top:467px;height:20px;line-height:20px;font-size:13.7px;color:#141414;letter-spacing:-0.01px;left:659.48px;">3/24</div>
<div class="a" style="top:467px;height:20px;line-height:20px;font-size:13.2px;color:#333333;left:729.53px;">Circle Logistic...</div>
<div class="a" style="top:467px;height:20px;line-height:20px;font-size:11.9px;color:#141414;letter-spacing:-0.5px;left:848.95px;">VR</div>
<div class="a" style="top:467px;height:20px;line-height:20px;font-size:13.7px;color:#141414;letter-spacing:-0.01px;left:923.88px;">Fort Collins</div>
<div class="a" style="top:467px;height:20px;line-height:20px;font-size:12.1px;color:#141414;letter-spacing:-0.06px;left:1044.39px;">CO</div>
<div class="a" style="top:467px;height:20px;line-height:20px;font-size:12.9px;color:#141414;letter-spacing:-0.02px;right:777.44px;text-align:right;">64</div>
<div class="a" style="top:467px;height:20px;line-height:20px;font-size:12.6px;color:#141414;letter-spacing:-0.02px;left:1164.94px;">Visalia</div>
<div class="a" style="top:467px;height:20px;line-height:20px;font-size:11.9px;color:#141414;letter-spacing:-0.5px;left:1284.4px;">CA</div>
<div class="a" style="top:467px;height:20px;line-height:20px;font-size:13.3px;color:#141414;right:462.22px;text-align:right;">1,166</div>
<div class="a" style="top:467px;height:20px;line-height:20px;font-size:13.0px;color:#141414;letter-spacing:0.01px;right:322.28px;text-align:right;">45,000</div>
<div class="a" style="top:467px;height:20px;line-height:20px;font-size:12.6px;color:#141414;letter-spacing:0.02px;left:1619.04px;">1:22</div>
<svg class="ic" style="left:1678.7px;top:467.5px;width:20.6px;height:20.6px;" viewBox="0 0 24 24"><path fill="#bd0a12" stroke="#bd0a12" stroke-width="0.5" stroke-linejoin="round" d="M22 9.24l-7.19-.62L12 2 9.19 8.63 2 9.24l5.46 4.73L5.82 21 12 17.27 18.18 21l-1.63-7.03L22 9.24zM12 15.4l-3.76 2.27 1-4.28-3.32-2.88 4.38-.38L12 6.1l1.71 4.04 4.38.38-3.32 2.88 1 4.28L12 15.4z"/></svg><svg class="ic" style="left:1707.1px;top:466.1px;width:24.8px;height:24.8px;" viewBox="0 0 24 24"><path fill="#bd0a12" stroke="#bd0a12" stroke-width="0.5" stroke-linejoin="round" d="M19 6.41L17.59 5 12 10.59 6.41 5 5 6.41 10.59 12 5 17.59 6.41 19 12 13.41 17.59 19 19 17.59 13.41 12z"/></svg><div class="a" style="left:1759px;top:468px;width:39px;height:19px;border-radius:3px;background:#ffd9da;"></div>
<div class="a" style="top:468px;height:20px;line-height:20px;font-size:9.9px;color:#4d444d;letter-spacing:0.08px;left:1766.39px;transform:rotate(0.05deg);">NOW</div>
<div class="a" style="left:1802px;top:468px;width:44px;height:19px;border-radius:3px;background:#e1e3e6;"></div>
<div class="a" style="top:468px;height:20px;line-height:20px;font-size:8.8px;color:#444a55;letter-spacing:0.02px;left:1808.7px;transform:rotate(0.05deg);">TRACK</div>
<div class="a" style="left:397px;top:494px;width:1465px;height:31px;background:#eceff0;border-bottom:1px solid #d9dcde;"></div>
<div class="a" style="top:499px;height:20px;line-height:20px;font-size:13.1px;color:#141414;letter-spacing:-0.02px;left:409.86px;">$1,600</div>
<div class="a" style="top:499px;height:20px;line-height:20px;font-size:13.4px;color:#141414;left:484.96px;">$<span style="font-size:12.2px">—</span></div>
<div class="a" style="top:499px;height:20px;line-height:20px;font-size:13.0px;color:#141414;letter-spacing:-0.01px;left:589.86px;">$1.37</div>
<div class="a" style="top:499px;height:20px;line-height:20px;font-size:13.7px;color:#141414;letter-spacing:-0.01px;left:659.48px;">3/24</div>
<div class="a" style="top:499px;height:20px;line-height:20px;font-size:13.2px;color:#333333;left:729.53px;">Circle Logistic...</div>
<div class="a" style="top:499px;height:20px;line-height:20px;font-size:11.9px;color:#141414;letter-spacing:-0.5px;left:848.95px;">VR</div>
<div class="a" style="top:499px;height:20px;line-height:20px;font-size:13.7px;color:#141414;letter-spacing:-0.01px;left:923.88px;">Fort Collins</div>
<div class="a" style="top:499px;height:20px;line-height:20px;font-size:12.1px;color:#141414;letter-spacing:-0.06px;left:1044.39px;">CO</div>
<div class="a" style="top:499px;height:20px;line-height:20px;font-size:12.9px;color:#141414;letter-spacing:-0.02px;right:777.44px;text-align:right;">64</div>
<div class="a" style="top:499px;height:20px;line-height:20px;font-size:12.6px;color:#141414;letter-spacing:-0.02px;left:1164.94px;">Visalia</div>
<div class="a" style="top:499px;height:20px;line-height:20px;font-size:11.9px;color:#141414;letter-spacing:-0.5px;left:1284.4px;">CA</div>
<div class="a" style="top:499px;height:20px;line-height:20px;font-size:13.3px;color:#141414;right:462.22px;text-align:right;">1,166</div>
<div class="a" style="top:499px;height:20px;line-height:20px;font-size:13.0px;color:#141414;letter-spacing:0.01px;right:322.28px;text-align:right;">45,000</div>
<div class="a" style="top:499px;height:20px;line-height:20px;font-size:12.6px;color:#141414;letter-spacing:0.02px;left:1619.04px;">1:22</div>
<svg class="ic" style="left:1678.7px;top:499.5px;width:20.6px;height:20.6px;" viewBox="0 0 24 24"><path fill="#bd0a12" stroke="#bd0a12" stroke-width="0.5" stroke-linejoin="round" d="M22 9.24l-7.19-.62L12 2 9.19 8.63 2 9.24l5.46 4.73L5.82 21 12 17.27 18.18 21l-1.63-7.03L22 9.24zM12 15.4l-3.76 2.27 1-4.28-3.32-2.88 4.38-.38L12 6.1l1.71 4.04 4.38.38-3.32 2.88 1 4.28L12 15.4z"/></svg><svg class="ic" style="left:1707.1px;top:498.1px;width:24.8px;height:24.8px;" viewBox="0 0 24 24"><path fill="#bd0a12" stroke="#bd0a12" stroke-width="0.5" stroke-linejoin="round" d="M19 6.41L17.59 5 12 10.59 6.41 5 5 6.41 10.59 12 5 17.59 6.41 19 12 13.41 17.59 19 19 17.59 13.41 12z"/></svg><div class="a" style="left:1759px;top:500px;width:39px;height:19px;border-radius:3px;background:#ffd9da;"></div>
<div class="a" style="top:500px;height:20px;line-height:20px;font-size:9.9px;color:#4d444d;letter-spacing:0.08px;left:1766.39px;transform:rotate(0.05deg);">NOW</div>
<div class="a" style="left:1802px;top:500px;width:44px;height:19px;border-radius:3px;background:#e1e3e6;"></div>
<div class="a" style="top:500px;height:20px;line-height:20px;font-size:8.8px;color:#444a55;letter-spacing:0.02px;left:1808.7px;transform:rotate(0.05deg);">TRACK</div>
<div class="a" style="left:397px;top:526px;width:1465px;height:31px;background:#ffffff;border-bottom:1px solid #d9dcde;"></div>
<div class="a" style="top:531px;height:20px;line-height:20px;font-size:13.1px;color:#141414;letter-spacing:-0.02px;left:409.86px;">$1,600</div>
<div class="a" style="top:531px;height:20px;line-height:20px;font-size:13.4px;color:#141414;left:484.96px;">$<span style="font-size:12.2px">—</span></div>
<div class="a" style="top:531px;height:20px;line-height:20px;font-size:13.0px;color:#141414;letter-spacing:-0.01px;left:589.86px;">$1.37</div>
<div class="a" style="top:531px;height:20px;line-height:20px;font-size:13.7px;color:#141414;letter-spacing:-0.01px;left:659.48px;">3/24</div>
<div class="a" style="top:531px;height:20px;line-height:20px;font-size:13.2px;color:#333333;left:729.53px;">Circle Logistic...</div>
<div class="a" style="top:531px;height:20px;line-height:20px;font-size:11.9px;color:#141414;letter-spacing:-0.5px;left:848.95px;">VR</div>
<div class="a" style="top:531px;height:20px;line-height:20px;font-size:13.7px;color:#141414;letter-spacing:-0.01px;left:923.88px;">Fort Collins</div>
<div class="a" style="top:531px;height:20px;line-height:20px;font-size:12.1px;color:#141414;letter-spacing:-0.06px;left:1044.39px;">CO</div>
<div class="a" style="top:531px;height:20px;line-height:20px;font-size:12.9px;color:#141414;letter-spacing:-0.02px;right:777.44px;text-align:right;">64</div>
<div class="a" style="top:531px;height:20px;line-height:20px;font-size:12.6px;color:#141414;letter-spacing:-0.02px;left:1164.94px;">Visalia</div>
<div class="a" style="top:531px;height:20px;line-height:20px;font-size:11.9px;color:#141414;letter-spacing:-0.5px;left:1284.4px;">CA</div>
<div class="a" style="top:531px;height:20px;line-height:20px;font-size:13.3px;color:#141414;right:462.22px;text-align:right;">1,166</div>
<div class="a" style="top:531px;height:20px;line-height:20px;font-size:13.0px;color:#141414;letter-spacing:0.01px;right:322.28px;text-align:right;">45,000</div>
<div class="a" style="top:531px;height:20px;line-height:20px;font-size:12.6px;color:#141414;letter-spacing:0.02px;left:1619.04px;">1:22</div>
<svg class="ic" style="left:1678.7px;top:531.5px;width:20.6px;height:20.6px;" viewBox="0 0 24 24"><path fill="#bd0a12" stroke="#bd0a12" stroke-width="0.5" stroke-linejoin="round" d="M22 9.24l-7.19-.62L12 2 9.19 8.63 2 9.24l5.46 4.73L5.82 21 12 17.27 18.18 21l-1.63-7.03L22 9.24zM12 15.4l-3.76 2.27 1-4.28-3.32-2.88 4.38-.38L12 6.1l1.71 4.04 4.38.38-3.32 2.88 1 4.28L12 15.4z"/></svg><svg class="ic" style="left:1707.1px;top:530.1px;width:24.8px;height:24.8px;" viewBox="0 0 24 24"><path fill="#bd0a12" stroke="#bd0a12" stroke-width="0.5" stroke-linejoin="round" d="M19 6.41L17.59 5 12 10.59 6.41 5 5 6.41 10.59 12 5 17.59 6.41 19 12 13.41 17.59 19 19 17.59 13.41 12z"/></svg><div class="a" style="left:1759px;top:532px;width:39px;height:19px;border-radius:3px;background:#ffd9da;"></div>
<div class="a" style="top:532px;height:20px;line-height:20px;font-size:9.9px;color:#4d444d;letter-spacing:0.08px;left:1766.39px;transform:rotate(0.05deg);">NOW</div>
<div class="a" style="left:1802px;top:532px;width:44px;height:19px;border-radius:3px;background:#e1e3e6;"></div>
<div class="a" style="top:532px;height:20px;line-height:20px;font-size:8.8px;color:#444a55;letter-spacing:0.02px;left:1808.7px;transform:rotate(0.05deg);">TRACK</div>
<div class="a" style="left:397px;top:558px;width:1465px;height:31px;background:#eceff0;border-bottom:1px solid #d9dcde;"></div>
<div class="a" style="top:563px;height:20px;line-height:20px;font-size:13.1px;color:#141414;letter-spacing:-0.02px;left:409.86px;">$1,600</div>
<div class="a" style="top:563px;height:20px;line-height:20px;font-size:13.4px;color:#141414;left:484.96px;">$<span style="font-size:12.2px">—</span></div>
<div class="a" style="top:563px;height:20px;line-height:20px;font-size:13.0px;color:#141414;letter-spacing:-0.01px;left:589.86px;">$1.37</div>
<div class="a" style="top:563px;height:20px;line-height:20px;font-size:13.7px;color:#141414;letter-spacing:-0.01px;left:659.48px;">3/24</div>
<div class="a" style="top:563px;height:20px;line-height:20px;font-size:13.2px;color:#333333;left:729.53px;">Circle Logistic...</div>
<div class="a" style="top:563px;height:20px;line-height:20px;font-size:11.9px;color:#141414;letter-spacing:-0.5px;left:848.95px;">VR</div>
<div class="a" style="top:563px;height:20px;line-height:20px;font-size:13.7px;color:#141414;letter-spacing:-0.01px;left:923.88px;">Fort Collins</div>
<div class="a" style="top:563px;height:20px;line-height:20px;font-size:12.1px;color:#141414;letter-spacing:-0.06px;left:1044.39px;">CO</div>
<div class="a" style="top:563px;height:20px;line-height:20px;font-size:12.9px;color:#141414;letter-spacing:-0.02px;right:777.44px;text-align:right;">64</div>
<div class="a" style="top:563px;height:20px;line-height:20px;font-size:12.6px;color:#141414;letter-spacing:-0.02px;left:1164.94px;">Visalia</div>
<div class="a" style="top:563px;height:20px;line-height:20px;font-size:11.9px;color:#141414;letter-spacing:-0.5px;left:1284.4px;">CA</div>
<div class="a" style="top:563px;height:20px;line-height:20px;font-size:13.3px;color:#141414;right:462.22px;text-align:right;">1,166</div>
<div class="a" style="top:563px;height:20px;line-height:20px;font-size:13.0px;color:#141414;letter-spacing:0.01px;right:322.28px;text-align:right;">45,000</div>
<div class="a" style="top:563px;height:20px;line-height:20px;font-size:12.6px;color:#141414;letter-spacing:0.02px;left:1619.04px;">1:22</div>
<svg class="ic" style="left:1678.7px;top:563.5px;width:20.6px;height:20.6px;" viewBox="0 0 24 24"><path fill="#bd0a12" stroke="#bd0a12" stroke-width="0.5" stroke-linejoin="round" d="M22 9.24l-7.19-.62L12 2 9.19 8.63 2 9.24l5.46 4.73L5.82 21 12 17.27 18.18 21l-1.63-7.03L22 9.24zM12 15.4l-3.76 2.27 1-4.28-3.32-2.88 4.38-.38L12 6.1l1.71 4.04 4.38.38-3.32 2.88 1 4.28L12 15.4z"/></svg><svg class="ic" style="left:1707.1px;top:562.1px;width:24.8px;height:24.8px;" viewBox="0 0 24 24"><path fill="#bd0a12" stroke="#bd0a12" stroke-width="0.5" stroke-linejoin="round" d="M19 6.41L17.59 5 12 10.59 6.41 5 5 6.41 10.59 12 5 17.59 6.41 19 12 13.41 17.59 19 19 17.59 13.41 12z"/></svg><div class="a" style="left:1759px;top:564px;width:39px;height:19px;border-radius:3px;background:#ffd9da;"></div>
<div class="a" style="top:564px;height:20px;line-height:20px;font-size:9.9px;color:#4d444d;letter-spacing:0.08px;left:1766.39px;transform:rotate(0.05deg);">NOW</div>
<div class="a" style="left:1802px;top:564px;width:44px;height:19px;border-radius:3px;background:#e1e3e6;"></div>
<div class="a" style="top:564px;height:20px;line-height:20px;font-size:8.8px;color:#444a55;letter-spacing:0.02px;left:1808.7px;transform:rotate(0.05deg);">TRACK</div>
<div class="a" style="left:397px;top:590px;width:1465px;height:31px;background:#ffffff;border-bottom:1px solid #d9dcde;"></div>
<div class="a" style="top:595px;height:20px;line-height:20px;font-size:13.1px;color:#141414;letter-spacing:-0.02px;left:409.86px;">$1,200</div>
<div class="a" style="top:595px;height:20px;line-height:20px;font-size:13.4px;color:#141414;left:484.96px;">$<span style="font-size:12.2px">—</span></div>
<div class="a" style="top:595px;height:20px;line-height:20px;font-size:13.0px;color:#141414;letter-spacing:-0.01px;left:589.86px;">$1.12</div>
<div class="a" style="top:595px;height:20px;line-height:20px;font-size:13.7px;color:#141414;letter-spacing:0.05px;left:659.48px;">3/23</div>
<div class="a" style="top:595px;height:20px;line-height:20px;font-size:13.2px;color:#333333;left:729.53px;">Circle Logistic...</div>
<div class="a" style="top:595px;height:20px;line-height:20px;font-size:11.9px;color:#141414;letter-spacing:-0.5px;left:848.95px;">VR</div>
<div class="a" style="top:595px;height:20px;line-height:20px;font-size:13.7px;color:#141414;letter-spacing:-0.01px;left:923.88px;">Fort Collins</div>
<div class="a" style="top:595px;height:20px;line-height:20px;font-size:12.1px;color:#141414;letter-spacing:-0.06px;left:1044.39px;">CO</div>
<div class="a" style="top:595px;height:20px;line-height:20px;font-size:12.9px;color:#141414;letter-spacing:-0.02px;right:777.44px;text-align:right;">64</div>
<div class="a" style="top:595px;height:20px;line-height:20px;font-size:12.8px;color:#141414;letter-spacing:0.02px;left:1164.42px;">Santa Fe Spri...</div>
<div class="a" style="top:595px;height:20px;line-height:20px;font-size:11.9px;color:#141414;letter-spacing:-0.5px;left:1284.4px;">CA</div>
<div class="a" style="top:595px;height:20px;line-height:20px;font-size:13.3px;color:#141414;letter-spacing:0.02px;right:462.11px;text-align:right;">1,072</div>
<div class="a" style="top:595px;height:20px;line-height:20px;font-size:13.0px;color:#141414;letter-spacing:0.01px;right:322.28px;text-align:right;">44,500</div>
<div class="a" style="top:595px;height:20px;line-height:20px;font-size:12.6px;color:#141414;letter-spacing:-0.01px;left:1619.04px;">1:25</div>
<svg class="ic" style="left:1678.7px;top:595.5px;width:20.6px;height:20.6px;" viewBox="0 0 24 24"><path fill="#bd0a12" stroke="#bd0a12" stroke-width="0.5" stroke-linejoin="round" d="M22 9.24l-7.19-.62L12 2 9.19 8.63 2 9.24l5.46 4.73L5.82 21 12 17.27 18.18 21l-1.63-7.03L22 9.24zM12 15.4l-3.76 2.27 1-4.28-3.32-2.88 4.38-.38L12 6.1l1.71 4.04 4.38.38-3.32 2.88 1 4.28L12 15.4z"/></svg><svg class="ic" style="left:1707.1px;top:594.1px;width:24.8px;height:24.8px;" viewBox="0 0 24 24"><path fill="#bd0a12" stroke="#bd0a12" stroke-width="0.5" stroke-linejoin="round" d="M19 6.41L17.59 5 12 10.59 6.41 5 5 6.41 10.59 12 5 17.59 6.41 19 12 13.41 17.59 19 19 17.59 13.41 12z"/></svg><div class="a" style="left:1759px;top:596px;width:39px;height:19px;border-radius:3px;background:#ffd9da;"></div>
<div class="a" style="top:596px;height:20px;line-height:20px;font-size:9.9px;color:#4d444d;letter-spacing:0.08px;left:1766.39px;transform:rotate(0.05deg);">NOW</div>
<div class="a" style="left:1802px;top:596px;width:44px;height:19px;border-radius:3px;background:#e1e3e6;"></div>
<div class="a" style="top:596px;height:20px;line-height:20px;font-size:8.8px;color:#444a55;letter-spacing:0.02px;left:1808.7px;transform:rotate(0.05deg);">TRACK</div>
<div class="a" style="left:397px;top:622px;width:1465px;height:31px;background:#eceff0;border-bottom:1px solid #d9dcde;"></div>
<div class="a" style="top:627px;height:20px;line-height:20px;font-size:13.1px;color:#141414;letter-spacing:-0.02px;left:409.86px;">$1,200</div>
<div class="a" style="top:627px;height:20px;line-height:20px;font-size:13.4px;color:#141414;left:484.96px;">$<span style="font-size:12.2px">—</span></div>
<div class="a" style="top:627px;height:20px;line-height:20px;font-size:13.0px;color:#141414;letter-spacing:-0.01px;left:589.86px;">$1.12</div>
<div class="a" style="top:627px;height:20px;line-height:20px;font-size:13.7px;color:#141414;letter-spacing:-0.01px;left:659.48px;">3/24</div>
<div class="a" style="top:627px;height:20px;line-height:20px;font-size:13.2px;color:#333333;left:729.53px;">Circle Logistic...</div>
<div class="a" style="top:627px;height:20px;line-height:20px;font-size:11.9px;color:#141414;letter-spacing:-0.5px;left:848.95px;">VR</div>
<div class="a" style="top:627px;height:20px;line-height:20px;font-size:13.7px;color:#141414;letter-spacing:-0.01px;left:923.88px;">Fort Collins</div>
<div class="a" style="top:627px;height:20px;line-height:20px;font-size:12.1px;color:#141414;letter-spacing:-0.06px;left:1044.39px;">CO</div>
<div class="a" style="top:627px;height:20px;line-height:20px;font-size:12.9px;color:#141414;letter-spacing:-0.02px;right:777.44px;text-align:right;">64</div>
<div class="a" style="top:627px;height:20px;line-height:20px;font-size:12.8px;color:#141414;letter-spacing:0.02px;left:1164.42px;">Santa Fe Spri...</div>
<div class="a" style="top:627px;height:20px;line-height:20px;font-size:11.9px;color:#141414;letter-spacing:-0.5px;left:1284.4px;">CA</div>
<div class="a" style="top:627px;height:20px;line-height:20px;font-size:13.3px;color:#141414;letter-spacing:0.02px;right:462.11px;text-align:right;">1,072</div>
<div class="a" style="top:627px;height:20px;line-height:20px;font-size:13.0px;color:#141414;letter-spacing:0.01px;right:322.28px;text-align:right;">44,500</div>
<div class="a" style="top:627px;height:20px;line-height:20px;font-size:12.6px;color:#141414;letter-spacing:-0.01px;left:1619.04px;">1:25</div>
<svg class="ic" style="left:1678.7px;top:627.5px;width:20.6px;height:20.6px;" viewBox="0 0 24 24"><path fill="#bd0a12" stroke="#bd0a12" stroke-width="0.5" stroke-linejoin="round" d="M22 9.24l-7.19-.62L12 2 9.19 8.63 2 9.24l5.46 4.73L5.82 21 12 17.27 18.18 21l-1.63-7.03L22 9.24zM12 15.4l-3.76 2.27 1-4.28-3.32-2.88 4.38-.38L12 6.1l1.71 4.04 4.38.38-3.32 2.88 1 4.28L12 15.4z"/></svg><svg class="ic" style="left:1707.1px;top:626.1px;width:24.8px;height:24.8px;" viewBox="0 0 24 24"><path fill="#bd0a12" stroke="#bd0a12" stroke-width="0.5" stroke-linejoin="round" d="M19 6.41L17.59 5 12 10.59 6.41 5 5 6.41 10.59 12 5 17.59 6.41 19 12 13.41 17.59 19 19 17.59 13.41 12z"/></svg><div class="a" style="left:1759px;top:628px;width:39px;height:19px;border-radius:3px;background:#ffd9da;"></div>
<div class="a" style="top:628px;height:20px;line-height:20px;font-size:9.9px;color:#4d444d;letter-spacing:0.08px;left:1766.39px;transform:rotate(0.05deg);">NOW</div>
<div class="a" style="left:1802px;top:628px;width:44px;height:19px;border-radius:3px;background:#e1e3e6;"></div>
<div class="a" style="top:628px;height:20px;line-height:20px;font-size:8.8px;color:#444a55;letter-spacing:0.02px;left:1808.7px;transform:rotate(0.05deg);">TRACK</div>
<div class="a" style="left:397px;top:654px;width:1465px;height:31px;background:#ffffff;border-bottom:1px solid #d9dcde;"></div>
<div class="a" style="top:659px;height:20px;line-height:20px;font-size:13.1px;color:#141414;letter-spacing:-0.02px;left:409.86px;">$1,250</div>
<div class="a" style="top:659px;height:20px;line-height:20px;font-size:13.4px;color:#141414;left:484.96px;">$<span style="font-size:12.2px">—</span></div>
<div class="a" style="top:659px;height:20px;line-height:20px;font-size:13.0px;color:#141414;letter-spacing:-0.01px;left:589.86px;">$2.61</div>
<div class="a" style="top:659px;height:20px;line-height:20px;font-size:13.7px;color:#141414;letter-spacing:-0.01px;left:659.48px;">3/24</div>
<div class="a" style="top:659px;height:20px;line-height:20px;font-size:13.7px;color:#333333;letter-spacing:0.1px;left:729.08px;">Loadsmart</div>
<div class="a" style="top:659px;height:20px;line-height:20px;font-size:13.4px;color:#141414;letter-spacing:-0.536px;left:848.94px;">V</div>
<div class="a" style="top:659px;height:20px;line-height:20px;font-size:13.7px;color:#141414;letter-spacing:-0.01px;left:923.88px;">Fort Collins</div>
<div class="a" style="top:659px;height:20px;line-height:20px;font-size:12.1px;color:#141414;letter-spacing:-0.06px;left:1044.39px;">CO</div>
<div class="a" style="top:659px;height:20px;line-height:20px;font-size:12.9px;color:#141414;letter-spacing:-0.02px;right:777.44px;text-align:right;">64</div>
<div class="a" style="top:659px;height:20px;line-height:20px;font-size:12.9px;color:#141414;letter-spacing:-0.01px;left:1164.41px;">Salt Lake City</div>
<div class="a" style="top:659px;height:20px;line-height:20px;font-size:12.2px;color:#141414;letter-spacing:0.06px;left:1284.06px;">UT</div>
<div class="a" style="top:659px;height:20px;line-height:20px;font-size:12.9px;color:#141414;letter-spacing:0.02px;right:462.22px;text-align:right;">478</div>
<div class="a" style="top:659px;height:20px;line-height:20px;font-size:13.0px;color:#141414;letter-spacing:0.01px;right:322.28px;text-align:right;">45,000</div>
<div class="a" style="top:659px;height:20px;line-height:20px;font-size:12.5px;color:#141414;letter-spacing:-0.02px;left:1619.37px;">2:32</div>
<svg class="ic" style="left:1678.7px;top:659.5px;width:20.6px;height:20.6px;" viewBox="0 0 24 24"><path fill="#bd0a12" stroke="#bd0a12" stroke-width="0.5" stroke-linejoin="round" d="M22 9.24l-7.19-.62L12 2 9.19 8.63 2 9.24l5.46 4.73L5.82 21 12 17.27 18.18 21l-1.63-7.03L22 9.24zM12 15.4l-3.76 2.27 1-4.28-3.32-2.88 4.38-.38L12 6.1l1.71 4.04 4.38.38-3.32 2.88 1 4.28L12 15.4z"/></svg><svg class="ic" style="left:1707.1px;top:658.1px;width:24.8px;height:24.8px;" viewBox="0 0 24 24"><path fill="#bd0a12" stroke="#bd0a12" stroke-width="0.5" stroke-linejoin="round" d="M19 6.41L17.59 5 12 10.59 6.41 5 5 6.41 10.59 12 5 17.59 6.41 19 12 13.41 17.59 19 19 17.59 13.41 12z"/></svg><div class="a" style="left:1759px;top:660px;width:39px;height:19px;border-radius:3px;background:#ffd9da;"></div>
<div class="a" style="top:660px;height:20px;line-height:20px;font-size:9.9px;color:#4d444d;letter-spacing:0.08px;left:1766.39px;transform:rotate(0.05deg);">NOW</div>
<div class="a" style="left:397px;top:686px;width:1465px;height:31px;background:#eceff0;border-bottom:1px solid #d9dcde;"></div>
<div class="a" style="top:691px;height:20px;line-height:20px;font-size:13.1px;color:#141414;letter-spacing:-0.02px;left:409.86px;">$1,350</div>
<div class="a" style="top:691px;height:20px;line-height:20px;font-size:13.4px;color:#141414;left:484.96px;">$<span style="font-size:12.2px">—</span></div>
<div class="a" style="top:691px;height:20px;line-height:20px;font-size:12.9px;color:#141414;letter-spacing:0.03px;left:589.86px;">$1.93</div>
<div class="a" style="top:691px;height:20px;line-height:20px;font-size:13.7px;color:#141414;letter-spacing:-0.01px;left:659.48px;">3/24</div>
<div class="a" style="top:691px;height:20px;line-height:20px;font-size:13.7px;color:#333333;letter-spacing:0.1px;left:729.08px;">Loadsmart</div>
<div class="a" style="top:691px;height:20px;line-height:20px;font-size:13.4px;color:#141414;letter-spacing:-0.536px;left:848.94px;">V</div>
<div class="a" style="top:691px;height:20px;line-height:20px;font-size:13.7px;color:#141414;letter-spacing:-0.01px;left:923.88px;">Fort Collins</div>
<div class="a" style="top:691px;height:20px;line-height:20px;font-size:12.1px;color:#141414;letter-spacing:-0.06px;left:1044.39px;">CO</div>
<div class="a" style="top:691px;height:20px;line-height:20px;font-size:12.9px;color:#141414;letter-spacing:-0.02px;right:777.44px;text-align:right;">64</div>
<div class="a" style="top:691px;height:20px;line-height:20px;font-size:13.1px;color:#141414;letter-spacing:-0.02px;left:1163.93px;">Elko</div>
<div class="a" style="top:691px;height:20px;line-height:20px;font-size:13.1px;color:#141414;letter-spacing:0.03px;left:1283.93px;">NV</div>
<div class="a" style="top:691px;height:20px;line-height:20px;font-size:13.1px;color:#141414;letter-spacing:0.01px;right:462.28px;text-align:right;">700</div>
<div class="a" style="top:691px;height:20px;line-height:20px;font-size:13.0px;color:#141414;letter-spacing:0.01px;right:322.28px;text-align:right;">45,000</div>
<div class="a" style="top:691px;height:20px;line-height:20px;font-size:12.3px;color:#141414;letter-spacing:0.02px;left:1619.53px;">3:25</div>
<svg class="ic" style="left:1678.7px;top:691.5px;width:20.6px;height:20.6px;" viewBox="0 0 24 24"><path fill="#bd0a12" stroke="#bd0a12" stroke-width="0.5" stroke-linejoin="round" d="M22 9.24l-7.19-.62L12 2 9.19 8.63 2 9.24l5.46 4.73L5.82 21 12 17.27 18.18 21l-1.63-7.03L22 9.24zM12 15.4l-3.76 2.27 1-4.28-3.32-2.88 4.38-.38L12 6.1l1.71 4.04 4.38.38-3.32 2.88 1 4.28L12 15.4z"/></svg><svg class="ic" style="left:1707.1px;top:690.1px;width:24.8px;height:24.8px;" viewBox="0 0 24 24"><path fill="#bd0a12" stroke="#bd0a12" stroke-width="0.5" stroke-linejoin="round" d="M19 6.41L17.59 5 12 10.59 6.41 5 5 6.41 10.59 12 5 17.59 6.41 19 12 13.41 17.59 19 19 17.59 13.41 12z"/></svg><div class="a" style="left:1759px;top:692px;width:39px;height:19px;border-radius:3px;background:#ffd9da;"></div>
<div class="a" style="top:692px;height:20px;line-height:20px;font-size:9.9px;color:#4d444d;letter-spacing:0.08px;left:1766.39px;transform:rotate(0.05deg);">NOW</div>
<div class="a" style="left:397px;top:718px;width:1465px;height:31px;background:#ffffff;border-bottom:1px solid #d9dcde;"></div>
<div class="a" style="top:723px;height:20px;line-height:20px;font-size:13.1px;color:#141414;letter-spacing:-0.02px;left:409.86px;">$1,350</div>
<div class="a" style="top:723px;height:20px;line-height:20px;font-size:13.4px;color:#141414;left:484.96px;">$<span style="font-size:12.2px">—</span></div>
<div class="a" style="top:723px;height:20px;line-height:20px;font-size:12.9px;color:#141414;letter-spacing:0.03px;left:589.86px;">$1.93</div>
<div class="a" style="top:723px;height:20px;line-height:20px;font-size:13.7px;color:#141414;letter-spacing:-0.01px;left:659.48px;">3/24</div>
<div class="a" style="top:723px;height:20px;line-height:20px;font-size:13.7px;color:#7a7a7a;letter-spacing:0.1px;left:729.08px;">Loadsmart</div>
<div class="a" style="top:723px;height:20px;line-height:20px;font-size:13.4px;color:#141414;letter-spacing:-0.536px;left:848.94px;">V</div>
<div class="a" style="top:723px;height:20px;line-height:20px;font-size:13.7px;color:#141414;letter-spacing:-0.01px;left:923.88px;">Fort Collins</div>
<div class="a" style="top:723px;height:20px;line-height:20px;font-size:12.1px;color:#141414;letter-spacing:-0.06px;left:1044.39px;">CO</div>
<div class="a" style="top:723px;height:20px;line-height:20px;font-size:12.9px;color:#141414;letter-spacing:-0.02px;right:777.44px;text-align:right;">64</div>
<div class="a" style="top:723px;height:20px;line-height:20px;font-size:13.1px;color:#141414;letter-spacing:-0.02px;left:1163.93px;">Elko</div>
<div class="a" style="top:723px;height:20px;line-height:20px;font-size:13.1px;color:#141414;letter-spacing:0.03px;left:1283.93px;">NV</div>
<div class="a" style="top:723px;height:20px;line-height:20px;font-size:13.1px;color:#141414;letter-spacing:0.01px;right:462.28px;text-align:right;">700</div>
<div class="a" style="top:723px;height:20px;line-height:20px;font-size:13.0px;color:#141414;letter-spacing:0.01px;right:322.28px;text-align:right;">45,000</div>
<div class="a" style="top:723px;height:20px;line-height:20px;font-size:12.3px;color:#141414;letter-spacing:0.02px;left:1619.53px;">3:25</div>
<svg class="ic" style="left:1678.7px;top:723.5px;width:20.6px;height:20.6px;" viewBox="0 0 24 24"><path fill="#bd0a12" stroke="#bd0a12" stroke-width="0.5" stroke-linejoin="round" d="M22 9.24l-7.19-.62L12 2 9.19 8.63 2 9.24l5.46 4.73L5.82 21 12 17.27 18.18 21l-1.63-7.03L22 9.24zM12 15.4l-3.76 2.27 1-4.28-3.32-2.88 4.38-.38L12 6.1l1.71 4.04 4.38.38-3.32 2.88 1 4.28L12 15.4z"/></svg><svg class="ic" style="left:1707.1px;top:722.1px;width:24.8px;height:24.8px;" viewBox="0 0 24 24"><path fill="#bd0a12" stroke="#bd0a12" stroke-width="0.5" stroke-linejoin="round" d="M19 6.41L17.59 5 12 10.59 6.41 5 5 6.41 10.59 12 5 17.59 6.41 19 12 13.41 17.59 19 19 17.59 13.41 12z"/></svg><div class="a" style="left:1759px;top:724px;width:39px;height:19px;border-radius:3px;background:#ffd9da;"></div>
<div class="a" style="top:724px;height:20px;line-height:20px;font-size:9.9px;color:#4d444d;letter-spacing:0.08px;left:1766.39px;transform:rotate(0.05deg);">NOW</div>
<div class="a" style="left:397px;top:750px;width:1465px;height:31px;background:#eceff0;border-bottom:1px solid #d9dcde;"></div>
<div class="a" style="top:755px;height:20px;line-height:20px;font-size:12.9px;color:#141414;letter-spacing:-0.02px;left:409.86px;">$500</div>
<div class="a" style="top:755px;height:20px;line-height:20px;font-size:13.4px;color:#141414;left:484.96px;">$<span style="font-size:12.2px">—</span></div>
<div class="a" style="top:755px;height:20px;line-height:20px;font-size:12.9px;color:#141414;letter-spacing:0.03px;left:589.86px;">$3.96</div>
<div class="a" style="top:755px;height:20px;line-height:20px;font-size:13.7px;color:#141414;letter-spacing:0.05px;left:659.48px;">3/23</div>
<div class="a" style="top:755px;height:20px;line-height:20px;font-size:13.7px;color:#333333;letter-spacing:0.1px;left:729.08px;">Loadsmart</div>
<div class="a" style="top:755px;height:20px;line-height:20px;font-size:13.4px;color:#141414;letter-spacing:-0.536px;left:848.94px;">V</div>
<div class="a" style="top:755px;height:20px;line-height:20px;font-size:13.6px;color:#141414;letter-spacing:0.02px;left:924.97px;">Aurora</div>
<div class="a" style="top:755px;height:20px;line-height:20px;font-size:12.1px;color:#141414;letter-spacing:-0.06px;left:1044.39px;">CO</div>
<div class="a" style="top:755px;height:20px;line-height:20px;font-size:13.4px;color:#141414;right:777.22px;text-align:right;">18</div>
<div class="a" style="top:755px;height:20px;line-height:20px;font-size:13.2px;color:#141414;letter-spacing:0.03px;left:1164.33px;">Cheyenne</div>
<div class="a" style="top:755px;height:20px;line-height:20px;font-size:11.9px;color:#141414;letter-spacing:-0.5px;left:1284.95px;">WY</div>
<div class="a" style="top:755px;height:20px;line-height:20px;font-size:13.4px;color:#141414;letter-spacing:-0.02px;right:462.23px;text-align:right;">126</div>
<div class="a" style="top:755px;height:20px;line-height:20px;font-size:13.0px;color:#141414;letter-spacing:0.01px;right:322.28px;text-align:right;">45,000</div>
<div class="a" style="top:755px;height:20px;line-height:20px;font-size:12.4px;color:#141414;letter-spacing:-0.02px;left:1619.5px;">5:29</div>
<svg class="ic" style="left:1678.7px;top:755.5px;width:20.6px;height:20.6px;" viewBox="0 0 24 24"><path fill="#bd0a12" stroke="#bd0a12" stroke-width="0.5" stroke-linejoin="round" d="M22 9.24l-7.19-.62L12 2 9.19 8.63 2 9.24l5.46 4.73L5.82 21 12 17.27 18.18 21l-1.63-7.03L22 9.24zM12 15.4l-3.76 2.27 1-4.28-3.32-2.88 4.38-.38L12 6.1l1.71 4.04 4.38.38-3.32 2.88 1 4.28L12 15.4z"/></svg><svg class="ic" style="left:1707.1px;top:754.1px;width:24.8px;height:24.8px;" viewBox="0 0 24 24"><path fill="#bd0a12" stroke="#bd0a12" stroke-width="0.5" stroke-linejoin="round" d="M19 6.41L17.59 5 12 10.59 6.41 5 5 6.41 10.59 12 5 17.59 6.41 19 12 13.41 17.59 19 19 17.59 13.41 12z"/></svg><div class="a" style="left:1759px;top:756px;width:39px;height:19px;border-radius:3px;background:#ffd9da;"></div>
<div class="a" style="top:756px;height:20px;line-height:20px;font-size:9.9px;color:#4d444d;letter-spacing:0.08px;left:1766.39px;transform:rotate(0.05deg);">NOW</div>
<div class="a" style="left:397px;top:782px;width:1465px;height:31px;background:#ffffff;border-bottom:1px solid #d9dcde;"></div>
<div class="a" style="top:787px;height:20px;line-height:20px;font-size:13.1px;color:#141414;letter-spacing:-0.02px;left:409.86px;">$1,000</div>
<div class="a" style="top:787px;height:20px;line-height:20px;font-size:13.4px;color:#141414;left:484.96px;">$<span style="font-size:12.2px">—</span></div>
<div class="a" style="top:787px;height:20px;line-height:20px;font-size:12.9px;color:#141414;letter-spacing:-0.02px;left:589.86px;">$2.74</div>
<div class="a" style="top:787px;height:20px;line-height:20px;font-size:13.7px;color:#141414;letter-spacing:0.05px;left:659.48px;">3/23</div>
<div class="a" style="top:787px;height:20px;line-height:20px;font-size:13.4px;color:#333333;letter-spacing:-0.01px;left:729.1px;">Knight - Swift ...</div>
<div class="a" style="top:787px;height:20px;line-height:20px;font-size:13.4px;color:#141414;letter-spacing:-0.536px;left:848.94px;">V</div>
<div class="a" style="top:787px;height:20px;line-height:20px;font-size:13.7px;color:#141414;letter-spacing:0.02px;left:923.88px;">Denver</div>
<div class="a" style="top:787px;height:20px;line-height:20px;font-size:12.1px;color:#141414;letter-spacing:-0.06px;left:1044.39px;">CO</div>
<div class="a" style="top:787px;height:20px;line-height:20px;font-size:13.4px;color:#141414;right:777.41px;text-align:right;">4</div>
<div class="a" style="top:787px;height:20px;line-height:20px;font-size:12.7px;color:#141414;letter-spacing:0.02px;left:1164.98px;">Aztec</div>
<div class="a" style="top:787px;height:20px;line-height:20px;font-size:13.7px;color:#141414;letter-spacing:1.04px;left:1283.88px;">NM</div>
<div class="a" style="top:787px;height:20px;line-height:20px;font-size:13.0px;color:#141414;letter-spacing:0.03px;right:462.22px;text-align:right;">365</div>
<div class="a" style="top:787px;height:20px;line-height:20px;font-size:12.7px;color:#141414;letter-spacing:0.04px;right:397.2px;text-align:right;">53</div>
<div class="a" style="top:787px;height:20px;line-height:20px;font-size:13.1px;color:#141414;letter-spacing:-0.02px;right:322.16px;text-align:right;">44,207</div>
<div class="a" style="top:787px;height:20px;line-height:20px;font-size:13.1px;color:#141414;letter-spacing:-0.02px;left:1619.39px;">9:00+</div>
<svg class="ic" style="left:1678.7px;top:787.5px;width:20.6px;height:20.6px;" viewBox="0 0 24 24"><path fill="#bd0a12" stroke="#bd0a12" stroke-width="0.5" stroke-linejoin="round" d="M22 9.24l-7.19-.62L12 2 9.19 8.63 2 9.24l5.46 4.73L5.82 21 12 17.27 18.18 21l-1.63-7.03L22 9.24zM12 15.4l-3.76 2.27 1-4.28-3.32-2.88 4.38-.38L12 6.1l1.71 4.04 4.38.38-3.32 2.88 1 4.28L12 15.4z"/></svg><svg class="ic" style="left:1707.1px;top:786.1px;width:24.8px;height:24.8px;" viewBox="0 0 24 24"><path fill="#bd0a12" stroke="#bd0a12" stroke-width="0.5" stroke-linejoin="round" d="M19 6.41L17.59 5 12 10.59 6.41 5 5 6.41 10.59 12 5 17.59 6.41 19 12 13.41 17.59 19 19 17.59 13.41 12z"/></svg><div class="a" style="left:1759px;top:788px;width:39px;height:19px;border-radius:3px;background:#ffd9da;"></div>
<div class="a" style="top:788px;height:20px;line-height:20px;font-size:9.9px;color:#4d444d;letter-spacing:0.08px;left:1766.39px;transform:rotate(0.05deg);">NOW</div>
<div class="a" style="left:397px;top:814px;width:1465px;height:31px;background:#eceff0;border-bottom:1px solid #d9dcde;"></div>
<div class="a" style="top:819px;height:20px;line-height:20px;font-size:12.9px;color:#141414;letter-spacing:-0.02px;left:409.86px;">$500</div>
<div class="a" style="top:819px;height:20px;line-height:20px;font-size:13.4px;color:#141414;left:484.96px;">$<span style="font-size:12.2px">—</span></div>
<div class="a" style="top:819px;height:20px;line-height:20px;font-size:12.9px;color:#141414;letter-spacing:0.03px;left:589.86px;">$3.96</div>
<div class="a" style="top:819px;height:20px;line-height:20px;font-size:13.7px;color:#141414;letter-spacing:-0.01px;left:659.48px;">3/24</div>
<div class="a" style="top:819px;height:20px;line-height:20px;font-size:13.7px;color:#333333;letter-spacing:0.1px;left:729.08px;">Loadsmart</div>
<div class="a" style="top:819px;height:20px;line-height:20px;font-size:13.4px;color:#141414;letter-spacing:-0.536px;left:848.94px;">V</div>
<div class="a" style="top:819px;height:20px;line-height:20px;font-size:13.6px;color:#141414;letter-spacing:0.02px;left:924.97px;">Aurora</div>
<div class="a" style="top:819px;height:20px;line-height:20px;font-size:12.1px;color:#141414;letter-spacing:-0.06px;left:1044.39px;">CO</div>
<div class="a" style="top:819px;height:20px;line-height:20px;font-size:13.4px;color:#141414;right:777.22px;text-align:right;">18</div>
<div class="a" style="top:819px;height:20px;line-height:20px;font-size:13.2px;color:#141414;letter-spacing:0.03px;left:1164.33px;">Cheyenne</div>
<div class="a" style="top:819px;height:20px;line-height:20px;font-size:11.9px;color:#141414;letter-spacing:-0.5px;left:1284.95px;">WY</div>
<div class="a" style="top:819px;height:20px;line-height:20px;font-size:13.4px;color:#141414;letter-spacing:-0.02px;right:462.23px;text-align:right;">126</div>
<div class="a" style="top:819px;height:20px;line-height:20px;font-size:13.0px;color:#141414;letter-spacing:0.01px;right:322.28px;text-align:right;">45,000</div>
<div class="a" style="top:819px;height:20px;line-height:20px;font-size:13.1px;color:#141414;letter-spacing:-0.02px;left:1619.39px;">9:00+</div>
<svg class="ic" style="left:1678.7px;top:819.5px;width:20.6px;height:20.6px;" viewBox="0 0 24 24"><path fill="#bd0a12" stroke="#bd0a12" stroke-width="0.5" stroke-linejoin="round" d="M22 9.24l-7.19-.62L12 2 9.19 8.63 2 9.24l5.46 4.73L5.82 21 12 17.27 18.18 21l-1.63-7.03L22 9.24zM12 15.4l-3.76 2.27 1-4.28-3.32-2.88 4.38-.38L12 6.1l1.71 4.04 4.38.38-3.32 2.88 1 4.28L12 15.4z"/></svg><svg class="ic" style="left:1707.1px;top:818.1px;width:24.8px;height:24.8px;" viewBox="0 0 24 24"><path fill="#bd0a12" stroke="#bd0a12" stroke-width="0.5" stroke-linejoin="round" d="M19 6.41L17.59 5 12 10.59 6.41 5 5 6.41 10.59 12 5 17.59 6.41 19 12 13.41 17.59 19 19 17.59 13.41 12z"/></svg><div class="a" style="left:1759px;top:820px;width:39px;height:19px;border-radius:3px;background:#ffd9da;"></div>
<div class="a" style="top:820px;height:20px;line-height:20px;font-size:9.9px;color:#4d444d;letter-spacing:0.08px;left:1766.39px;transform:rotate(0.05deg);">NOW</div>
<div class="a" style="left:397px;top:846px;width:1465px;height:31px;background:#ffffff;border-bottom:1px solid #d9dcde;"></div>
<div class="a" style="top:851px;height:20px;line-height:20px;font-size:13.1px;color:#141414;letter-spacing:-0.02px;left:409.86px;">$1,000</div>
<div class="a" style="top:851px;height:20px;line-height:20px;font-size:13.4px;color:#141414;left:484.96px;">$<span style="font-size:12.2px">—</span></div>
<div class="a" style="top:851px;height:20px;line-height:20px;font-size:12.9px;color:#141414;letter-spacing:0.02px;left:589.86px;">$2.10</div>
<div class="a" style="top:851px;height:20px;line-height:20px;font-size:13.7px;color:#141414;letter-spacing:-0.01px;left:659.48px;">3/24</div>
<div class="a" style="top:851px;height:20px;line-height:20px;font-size:13.4px;color:#333333;letter-spacing:-0.01px;left:729.1px;">Knight - Swift ...</div>
<div class="a" style="top:851px;height:20px;line-height:20px;font-size:11.9px;color:#141414;letter-spacing:-0.5px;left:848.95px;">VF</div>
<div class="a" style="top:851px;height:20px;line-height:20px;font-size:13.5px;color:#141414;left:924.31px;">Colorado Spri...</div>
<div class="a" style="top:851px;height:20px;line-height:20px;font-size:12.1px;color:#141414;letter-spacing:-0.06px;left:1044.39px;">CO</div>
<div class="a" style="top:851px;height:20px;line-height:20px;font-size:12.9px;color:#141414;letter-spacing:-0.01px;right:777.43px;text-align:right;">74</div>
<div class="a" style="top:851px;height:20px;line-height:20px;font-size:13.7px;color:#141414;letter-spacing:0.21px;left:1163.88px;">Prewitt</div>
<div class="a" style="top:851px;height:20px;line-height:20px;font-size:13.7px;color:#141414;letter-spacing:1.04px;left:1283.88px;">NM</div>
<div class="a" style="top:851px;height:20px;line-height:20px;font-size:13.0px;color:#141414;letter-spacing:-0.02px;right:462.17px;text-align:right;">477</div>
<div class="a" style="top:851px;height:20px;line-height:20px;font-size:13.0px;color:#141414;letter-spacing:0.01px;right:322.28px;text-align:right;">44,000</div>
<div class="a" style="top:851px;height:20px;line-height:20px;font-size:13.1px;color:#141414;letter-spacing:-0.02px;left:1619.39px;">9:00+</div>
<svg class="ic" style="left:1678.7px;top:851.5px;width:20.6px;height:20.6px;" viewBox="0 0 24 24"><path fill="#bd0a12" stroke="#bd0a12" stroke-width="0.5" stroke-linejoin="round" d="M22 9.24l-7.19-.62L12 2 9.19 8.63 2 9.24l5.46 4.73L5.82 21 12 17.27 18.18 21l-1.63-7.03L22 9.24zM12 15.4l-3.76 2.27 1-4.28-3.32-2.88 4.38-.38L12 6.1l1.71 4.04 4.38.38-3.32 2.88 1 4.28L12 15.4z"/></svg><svg class="ic" style="left:1707.1px;top:850.1px;width:24.8px;height:24.8px;" viewBox="0 0 24 24"><path fill="#bd0a12" stroke="#bd0a12" stroke-width="0.5" stroke-linejoin="round" d="M19 6.41L17.59 5 12 10.59 6.41 5 5 6.41 10.59 12 5 17.59 6.41 19 12 13.41 17.59 19 19 17.59 13.41 12z"/></svg><div class="a" style="left:1759px;top:852px;width:39px;height:19px;border-radius:3px;background:#ffd9da;"></div>
<div class="a" style="top:852px;height:20px;line-height:20px;font-size:9.9px;color:#4d444d;letter-spacing:0.08px;left:1766.39px;transform:rotate(0.05deg);">NOW</div>
<div class="a" style="left:397px;top:878px;width:1465px;height:31px;background:#eceff0;border-bottom:1px solid #d9dcde;"></div>
<div class="a" style="top:883px;height:20px;line-height:20px;font-size:13.1px;color:#141414;letter-spacing:-0.02px;left:409.86px;">$1,800</div>
<div class="a" style="top:883px;height:20px;line-height:20px;font-size:12.9px;color:#141414;letter-spacing:0.03px;left:589.86px;">$2.23</div>
<div class="a" style="top:883px;height:20px;line-height:20px;font-size:13.7px;color:#141414;letter-spacing:0.05px;left:659.48px;">3/23</div>
<div class="a" style="top:883px;height:20px;line-height:20px;font-size:12.6px;color:#333333;letter-spacing:-0.01px;left:729.17px;">Eagle Rock Fr...</div>
<div class="a" style="top:883px;height:20px;line-height:20px;font-size:11.9px;color:#141414;letter-spacing:-0.23px;left:848.02px;">FSD</div>
<div class="a" style="top:883px;height:20px;line-height:20px;font-size:13.7px;color:#141414;letter-spacing:0.02px;left:923.88px;">Denver</div>
<div class="a" style="top:883px;height:20px;line-height:20px;font-size:12.1px;color:#141414;letter-spacing:-0.06px;left:1044.39px;">CO</div>
<div class="a" style="top:883px;height:20px;line-height:20px;font-size:13.4px;color:#141414;right:777.15px;text-align:right;">1</div>
<div class="a" style="top:883px;height:20px;line-height:20px;font-size:13.6px;color:#141414;left:1163.88px;">Phoenix</div>
<div class="a" style="top:883px;height:20px;line-height:20px;font-size:11.9px;color:#141414;letter-spacing:-0.5px;left:1284.98px;">AZ</div>
<div class="a" style="top:883px;height:20px;line-height:20px;font-size:13.1px;color:#141414;letter-spacing:-0.01px;right:462.24px;text-align:right;">808</div>
<div class="a" style="top:883px;height:20px;line-height:20px;font-size:12.7px;color:#141414;letter-spacing:0.02px;right:397.23px;text-align:right;">48</div>
<div class="a" style="top:883px;height:20px;line-height:20px;font-size:13.0px;color:#141414;letter-spacing:0.01px;right:322.28px;text-align:right;">47,000</div>
<div class="a" style="top:883px;height:20px;line-height:20px;font-size:12.4px;color:#141414;letter-spacing:-0.02px;left:1619.52px;">0:09</div>
<svg class="ic" style="left:1678.7px;top:883.5px;width:20.6px;height:20.6px;" viewBox="0 0 24 24"><path fill="#bd0a12" stroke="#bd0a12" stroke-width="0.5" stroke-linejoin="round" d="M22 9.24l-7.19-.62L12 2 9.19 8.63 2 9.24l5.46 4.73L5.82 21 12 17.27 18.18 21l-1.63-7.03L22 9.24zM12 15.4l-3.76 2.27 1-4.28-3.32-2.88 4.38-.38L12 6.1l1.71 4.04 4.38.38-3.32 2.88 1 4.28L12 15.4z"/></svg><svg class="ic" style="left:1707.1px;top:882.1px;width:24.8px;height:24.8px;" viewBox="0 0 24 24"><path fill="#bd0a12" stroke="#bd0a12" stroke-width="0.5" stroke-linejoin="round" d="M19 6.41L17.59 5 12 10.59 6.41 5 5 6.41 10.59 12 5 17.59 6.41 19 12 13.41 17.59 19 19 17.59 13.41 12z"/></svg><div class="a" style="left:724px;top:334px;width:103px;height:574px;-webkit-backdrop-filter:blur(2.1px);backdrop-filter:blur(2.1px);"></div>
<div class="a" style="left:1862px;top:333px;width:7px;height:575px;background:#f1f1f1;"></div>
<div class="a" style="left:1862px;top:333px;width:7px;height:102px;background:#b9b9b9;border-radius:3.5px;"></div>
<div class="a" style="left:397px;top:908px;width:1465px;height:7px;background:#f1f1f1;"></div>
<div class="a" style="left:1862px;top:908px;width:7px;height:7px;background:#fff;"></div>
<div class="a" style="left:397px;top:908px;width:1448px;height:7px;background:#b9b9b9;border-radius:3.5px;"></div>
</body>
</html>
